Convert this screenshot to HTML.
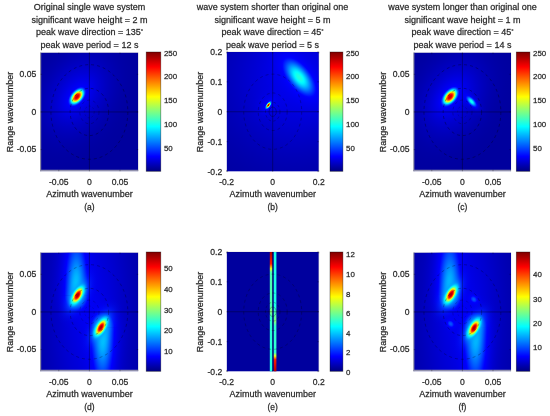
<!DOCTYPE html>
<html><head><meta charset="utf-8"><title>Wave spectra</title>
<style>
html,body{margin:0;padding:0;background:#fff}
body{width:550px;height:416px;overflow:hidden}
svg{display:block}
text{font-family:"Liberation Sans", sans-serif;fill:#262626;stroke:#262626;stroke-width:0.3px;stroke-opacity:0.75}
</style></head><body>
<svg width="550" height="416" viewBox="0 0 550 416">
<defs>
<linearGradient id="jb" x1="0" y1="0" x2="0" y2="1"><stop offset="0.0000" stop-color="#800000"/><stop offset="0.0312" stop-color="#9f0000"/><stop offset="0.0625" stop-color="#bf0000"/><stop offset="0.0938" stop-color="#df0000"/><stop offset="0.1250" stop-color="#ff0000"/><stop offset="0.1562" stop-color="#ff2000"/><stop offset="0.1875" stop-color="#ff4000"/><stop offset="0.2188" stop-color="#ff6000"/><stop offset="0.2500" stop-color="#ff8000"/><stop offset="0.2812" stop-color="#ff9f00"/><stop offset="0.3125" stop-color="#ffbf00"/><stop offset="0.3438" stop-color="#ffdf00"/><stop offset="0.3750" stop-color="#ffff00"/><stop offset="0.4062" stop-color="#dfff20"/><stop offset="0.4375" stop-color="#bfff40"/><stop offset="0.4688" stop-color="#9fff60"/><stop offset="0.5000" stop-color="#80ff80"/><stop offset="0.5312" stop-color="#60ff9f"/><stop offset="0.5625" stop-color="#40ffbf"/><stop offset="0.5938" stop-color="#20ffdf"/><stop offset="0.6250" stop-color="#00ffff"/><stop offset="0.6562" stop-color="#00dfff"/><stop offset="0.6875" stop-color="#00bfff"/><stop offset="0.7188" stop-color="#009fff"/><stop offset="0.7500" stop-color="#0080ff"/><stop offset="0.7812" stop-color="#0060ff"/><stop offset="0.8125" stop-color="#0040ff"/><stop offset="0.8438" stop-color="#0020ff"/><stop offset="0.8750" stop-color="#0000ff"/><stop offset="0.9062" stop-color="#0000df"/><stop offset="0.9375" stop-color="#0000bf"/><stop offset="0.9688" stop-color="#00009f"/><stop offset="1.0000" stop-color="#000080"/></linearGradient>
<radialGradient id="g1" gradientUnits="userSpaceOnUse" cx="0" cy="0" r="3.600" gradientTransform="translate(77.40 94.95) rotate(-60.00) scale(28.000 20.000)"><stop offset="0.0000" stop-color="#0000ff" stop-opacity="0.800"/><stop offset="0.0357" stop-color="#0000ff" stop-opacity="0.793"/><stop offset="0.0714" stop-color="#0000ff" stop-opacity="0.774"/><stop offset="0.1071" stop-color="#0000ff" stop-opacity="0.743"/><stop offset="0.1429" stop-color="#0000ff" stop-opacity="0.701"/><stop offset="0.1786" stop-color="#0000ff" stop-opacity="0.651"/><stop offset="0.2143" stop-color="#0000ff" stop-opacity="0.594"/><stop offset="0.2500" stop-color="#0000ff" stop-opacity="0.534"/><stop offset="0.2857" stop-color="#0000ff" stop-opacity="0.471"/><stop offset="0.3214" stop-color="#0000ff" stop-opacity="0.410"/><stop offset="0.3571" stop-color="#0000ff" stop-opacity="0.350"/><stop offset="0.3929" stop-color="#0000ff" stop-opacity="0.294"/><stop offset="0.4286" stop-color="#0000ff" stop-opacity="0.243"/><stop offset="0.4643" stop-color="#0000ff" stop-opacity="0.198"/><stop offset="0.5000" stop-color="#0000ff" stop-opacity="0.158"/><stop offset="0.5357" stop-color="#0000ff" stop-opacity="0.125"/><stop offset="0.5714" stop-color="#0000ff" stop-opacity="0.096"/><stop offset="0.6071" stop-color="#0000ff" stop-opacity="0.073"/><stop offset="0.6429" stop-color="#0000ff" stop-opacity="0.055"/><stop offset="0.6786" stop-color="#0000ff" stop-opacity="0.040"/><stop offset="0.7143" stop-color="#0000ff" stop-opacity="0.029"/><stop offset="0.7500" stop-color="#0000ff" stop-opacity="0.021"/><stop offset="0.7857" stop-color="#0000ff" stop-opacity="0.015"/><stop offset="0.8214" stop-color="#0000ff" stop-opacity="0.009"/><stop offset="0.8571" stop-color="#0000ff" stop-opacity="0.005"/><stop offset="0.8929" stop-color="#0000ff" stop-opacity="0.002"/><stop offset="0.9286" stop-color="#0000ff" stop-opacity="0.001"/><stop offset="0.9643" stop-color="#0000ff" stop-opacity="0.000"/><stop offset="1.0000" stop-color="#0000ff" stop-opacity="0.000"/></radialGradient>
<radialGradient id="g2" gradientUnits="userSpaceOnUse" cx="0" cy="0" r="7.200" gradientTransform="translate(77.10 96.65) rotate(-50.00) scale(5.600 3.250)"><stop offset="0.0000" stop-color="#c70000" stop-opacity="1.000"/><stop offset="0.0036" stop-color="#c70000" stop-opacity="1.000"/><stop offset="0.0094" stop-color="#c70000" stop-opacity="1.000"/><stop offset="0.0166" stop-color="#c90000" stop-opacity="1.000"/><stop offset="0.0249" stop-color="#cd0000" stop-opacity="1.000"/><stop offset="0.0340" stop-color="#d40000" stop-opacity="1.000"/><stop offset="0.0438" stop-color="#df0000" stop-opacity="1.000"/><stop offset="0.0544" stop-color="#ef0000" stop-opacity="1.000"/><stop offset="0.0656" stop-color="#ff0700" stop-opacity="1.000"/><stop offset="0.0774" stop-color="#ff2500" stop-opacity="1.000"/><stop offset="0.0896" stop-color="#ff4a00" stop-opacity="1.000"/><stop offset="0.1024" stop-color="#ff7800" stop-opacity="1.000"/><stop offset="0.1157" stop-color="#ffad00" stop-opacity="1.000"/><stop offset="0.1294" stop-color="#ffe800" stop-opacity="1.000"/><stop offset="0.1436" stop-color="#d5ff2a" stop-opacity="1.000"/><stop offset="0.1581" stop-color="#92ff6d" stop-opacity="1.000"/><stop offset="0.1731" stop-color="#4effb1" stop-opacity="1.000"/><stop offset="0.1884" stop-color="#0bfff4" stop-opacity="1.000"/><stop offset="0.2041" stop-color="#00ccff" stop-opacity="1.000"/><stop offset="0.2202" stop-color="#0094ff" stop-opacity="1.000"/><stop offset="0.2366" stop-color="#0063ff" stop-opacity="1.000"/><stop offset="0.2533" stop-color="#003aff" stop-opacity="1.000"/><stop offset="0.2704" stop-color="#0018ff" stop-opacity="1.000"/><stop offset="0.2877" stop-color="#0000ff" stop-opacity="0.986"/><stop offset="0.3054" stop-color="#0000ff" stop-opacity="0.829"/><stop offset="0.3233" stop-color="#0000ff" stop-opacity="0.709"/><stop offset="0.3416" stop-color="#0000ff" stop-opacity="0.618"/><stop offset="0.3601" stop-color="#0000ff" stop-opacity="0.546"/><stop offset="0.3789" stop-color="#0000ff" stop-opacity="0.487"/><stop offset="0.3980" stop-color="#0000ff" stop-opacity="0.436"/><stop offset="0.4174" stop-color="#0000ff" stop-opacity="0.391"/><stop offset="0.4370" stop-color="#0000ff" stop-opacity="0.349"/><stop offset="0.4568" stop-color="#0000ff" stop-opacity="0.311"/><stop offset="0.4769" stop-color="#0000ff" stop-opacity="0.275"/><stop offset="0.4973" stop-color="#0000ff" stop-opacity="0.242"/><stop offset="0.5179" stop-color="#0000ff" stop-opacity="0.211"/><stop offset="0.5387" stop-color="#0000ff" stop-opacity="0.183"/><stop offset="0.5598" stop-color="#0000ff" stop-opacity="0.158"/><stop offset="0.5811" stop-color="#0000ff" stop-opacity="0.135"/><stop offset="0.6026" stop-color="#0000ff" stop-opacity="0.114"/><stop offset="0.6243" stop-color="#0000ff" stop-opacity="0.096"/><stop offset="0.6463" stop-color="#0000ff" stop-opacity="0.080"/><stop offset="0.6685" stop-color="#0000ff" stop-opacity="0.066"/><stop offset="0.6909" stop-color="#0000ff" stop-opacity="0.054"/><stop offset="0.7135" stop-color="#0000ff" stop-opacity="0.044"/><stop offset="0.7363" stop-color="#0000ff" stop-opacity="0.036"/><stop offset="0.7593" stop-color="#0000ff" stop-opacity="0.029"/><stop offset="0.7825" stop-color="#0000ff" stop-opacity="0.023"/><stop offset="0.8059" stop-color="#0000ff" stop-opacity="0.017"/><stop offset="0.8295" stop-color="#0000ff" stop-opacity="0.012"/><stop offset="0.8533" stop-color="#0000ff" stop-opacity="0.008"/><stop offset="0.8773" stop-color="#0000ff" stop-opacity="0.005"/><stop offset="0.9014" stop-color="#0000ff" stop-opacity="0.003"/><stop offset="0.9258" stop-color="#0000ff" stop-opacity="0.002"/><stop offset="0.9504" stop-color="#0000ff" stop-opacity="0.001"/><stop offset="0.9751" stop-color="#0000ff" stop-opacity="0.000"/><stop offset="1.0000" stop-color="#0000ff" stop-opacity="0.000"/></radialGradient>
<radialGradient id="g3" gradientUnits="userSpaceOnUse" cx="0" cy="0" r="3.600" gradientTransform="translate(294.70 79.75) rotate(0.00) scale(48.000 52.000)"><stop offset="0.0000" stop-color="#0000ff" stop-opacity="0.800"/><stop offset="0.0357" stop-color="#0000ff" stop-opacity="0.793"/><stop offset="0.0714" stop-color="#0000ff" stop-opacity="0.774"/><stop offset="0.1071" stop-color="#0000ff" stop-opacity="0.743"/><stop offset="0.1429" stop-color="#0000ff" stop-opacity="0.701"/><stop offset="0.1786" stop-color="#0000ff" stop-opacity="0.651"/><stop offset="0.2143" stop-color="#0000ff" stop-opacity="0.594"/><stop offset="0.2500" stop-color="#0000ff" stop-opacity="0.534"/><stop offset="0.2857" stop-color="#0000ff" stop-opacity="0.471"/><stop offset="0.3214" stop-color="#0000ff" stop-opacity="0.410"/><stop offset="0.3571" stop-color="#0000ff" stop-opacity="0.350"/><stop offset="0.3929" stop-color="#0000ff" stop-opacity="0.294"/><stop offset="0.4286" stop-color="#0000ff" stop-opacity="0.243"/><stop offset="0.4643" stop-color="#0000ff" stop-opacity="0.198"/><stop offset="0.5000" stop-color="#0000ff" stop-opacity="0.158"/><stop offset="0.5357" stop-color="#0000ff" stop-opacity="0.125"/><stop offset="0.5714" stop-color="#0000ff" stop-opacity="0.096"/><stop offset="0.6071" stop-color="#0000ff" stop-opacity="0.073"/><stop offset="0.6429" stop-color="#0000ff" stop-opacity="0.055"/><stop offset="0.6786" stop-color="#0000ff" stop-opacity="0.040"/><stop offset="0.7143" stop-color="#0000ff" stop-opacity="0.029"/><stop offset="0.7500" stop-color="#0000ff" stop-opacity="0.021"/><stop offset="0.7857" stop-color="#0000ff" stop-opacity="0.015"/><stop offset="0.8214" stop-color="#0000ff" stop-opacity="0.009"/><stop offset="0.8571" stop-color="#0000ff" stop-opacity="0.005"/><stop offset="0.8929" stop-color="#0000ff" stop-opacity="0.002"/><stop offset="0.9286" stop-color="#0000ff" stop-opacity="0.001"/><stop offset="0.9643" stop-color="#0000ff" stop-opacity="0.000"/><stop offset="1.0000" stop-color="#0000ff" stop-opacity="0.000"/></radialGradient>
<radialGradient id="g4" gradientUnits="userSpaceOnUse" cx="0" cy="0" r="6.120" gradientTransform="translate(299.20 77.35) rotate(52.00) scale(13.400 6.500)"><stop offset="0.0000" stop-color="#24ffdb" stop-opacity="1.000"/><stop offset="0.0046" stop-color="#24ffdb" stop-opacity="1.000"/><stop offset="0.0120" stop-color="#23ffdc" stop-opacity="1.000"/><stop offset="0.0212" stop-color="#21ffde" stop-opacity="1.000"/><stop offset="0.0318" stop-color="#1dffe2" stop-opacity="1.000"/><stop offset="0.0434" stop-color="#17ffe8" stop-opacity="1.000"/><stop offset="0.0560" stop-color="#10ffef" stop-opacity="1.000"/><stop offset="0.0695" stop-color="#05fffa" stop-opacity="1.000"/><stop offset="0.0838" stop-color="#00f7ff" stop-opacity="1.000"/><stop offset="0.0989" stop-color="#00e8ff" stop-opacity="1.000"/><stop offset="0.1146" stop-color="#00d5ff" stop-opacity="1.000"/><stop offset="0.1309" stop-color="#00c1ff" stop-opacity="1.000"/><stop offset="0.1479" stop-color="#00abff" stop-opacity="1.000"/><stop offset="0.1654" stop-color="#0093ff" stop-opacity="1.000"/><stop offset="0.1835" stop-color="#007bff" stop-opacity="1.000"/><stop offset="0.2021" stop-color="#0062ff" stop-opacity="1.000"/><stop offset="0.2212" stop-color="#0049ff" stop-opacity="1.000"/><stop offset="0.2408" stop-color="#0031ff" stop-opacity="1.000"/><stop offset="0.2609" stop-color="#001bff" stop-opacity="1.000"/><stop offset="0.2814" stop-color="#0005ff" stop-opacity="1.000"/><stop offset="0.3023" stop-color="#0000ff" stop-opacity="0.890"/><stop offset="0.3237" stop-color="#0000ff" stop-opacity="0.754"/><stop offset="0.3455" stop-color="#0000ff" stop-opacity="0.634"/><stop offset="0.3677" stop-color="#0000ff" stop-opacity="0.530"/><stop offset="0.3903" stop-color="#0000ff" stop-opacity="0.441"/><stop offset="0.4132" stop-color="#0000ff" stop-opacity="0.366"/><stop offset="0.4365" stop-color="#0000ff" stop-opacity="0.303"/><stop offset="0.4602" stop-color="#0000ff" stop-opacity="0.250"/><stop offset="0.4843" stop-color="#0000ff" stop-opacity="0.206"/><stop offset="0.5087" stop-color="#0000ff" stop-opacity="0.169"/><stop offset="0.5334" stop-color="#0000ff" stop-opacity="0.139"/><stop offset="0.5584" stop-color="#0000ff" stop-opacity="0.113"/><stop offset="0.5838" stop-color="#0000ff" stop-opacity="0.092"/><stop offset="0.6095" stop-color="#0000ff" stop-opacity="0.074"/><stop offset="0.6355" stop-color="#0000ff" stop-opacity="0.060"/><stop offset="0.6618" stop-color="#0000ff" stop-opacity="0.047"/><stop offset="0.6885" stop-color="#0000ff" stop-opacity="0.037"/><stop offset="0.7154" stop-color="#0000ff" stop-opacity="0.029"/><stop offset="0.7426" stop-color="#0000ff" stop-opacity="0.023"/><stop offset="0.7701" stop-color="#0000ff" stop-opacity="0.017"/><stop offset="0.7979" stop-color="#0000ff" stop-opacity="0.013"/><stop offset="0.8260" stop-color="#0000ff" stop-opacity="0.008"/><stop offset="0.8543" stop-color="#0000ff" stop-opacity="0.005"/><stop offset="0.8829" stop-color="#0000ff" stop-opacity="0.003"/><stop offset="0.9118" stop-color="#0000ff" stop-opacity="0.002"/><stop offset="0.9409" stop-color="#0000ff" stop-opacity="0.001"/><stop offset="0.9703" stop-color="#0000ff" stop-opacity="0.000"/><stop offset="1.0000" stop-color="#0000ff" stop-opacity="0.000"/></radialGradient>
<radialGradient id="g5" gradientUnits="userSpaceOnUse" cx="0" cy="0" r="3.600" gradientTransform="translate(268.40 105.15) rotate(-40.00) scale(8.000 6.500)"><stop offset="0.0000" stop-color="#0000ff" stop-opacity="0.560"/><stop offset="0.0357" stop-color="#0000ff" stop-opacity="0.555"/><stop offset="0.0714" stop-color="#0000ff" stop-opacity="0.542"/><stop offset="0.1071" stop-color="#0000ff" stop-opacity="0.520"/><stop offset="0.1429" stop-color="#0000ff" stop-opacity="0.491"/><stop offset="0.1786" stop-color="#0000ff" stop-opacity="0.455"/><stop offset="0.2143" stop-color="#0000ff" stop-opacity="0.416"/><stop offset="0.2500" stop-color="#0000ff" stop-opacity="0.374"/><stop offset="0.2857" stop-color="#0000ff" stop-opacity="0.330"/><stop offset="0.3214" stop-color="#0000ff" stop-opacity="0.287"/><stop offset="0.3571" stop-color="#0000ff" stop-opacity="0.245"/><stop offset="0.3929" stop-color="#0000ff" stop-opacity="0.206"/><stop offset="0.4286" stop-color="#0000ff" stop-opacity="0.170"/><stop offset="0.4643" stop-color="#0000ff" stop-opacity="0.139"/><stop offset="0.5000" stop-color="#0000ff" stop-opacity="0.111"/><stop offset="0.5357" stop-color="#0000ff" stop-opacity="0.087"/><stop offset="0.5714" stop-color="#0000ff" stop-opacity="0.067"/><stop offset="0.6071" stop-color="#0000ff" stop-opacity="0.051"/><stop offset="0.6429" stop-color="#0000ff" stop-opacity="0.038"/><stop offset="0.6786" stop-color="#0000ff" stop-opacity="0.028"/><stop offset="0.7143" stop-color="#0000ff" stop-opacity="0.021"/><stop offset="0.7500" stop-color="#0000ff" stop-opacity="0.015"/><stop offset="0.7857" stop-color="#0000ff" stop-opacity="0.010"/><stop offset="0.8214" stop-color="#0000ff" stop-opacity="0.006"/><stop offset="0.8571" stop-color="#0000ff" stop-opacity="0.003"/><stop offset="0.8929" stop-color="#0000ff" stop-opacity="0.002"/><stop offset="0.9286" stop-color="#0000ff" stop-opacity="0.001"/><stop offset="0.9643" stop-color="#0000ff" stop-opacity="0.000"/><stop offset="1.0000" stop-color="#0000ff" stop-opacity="0.000"/></radialGradient>
<radialGradient id="g6" gradientUnits="userSpaceOnUse" cx="0" cy="0" r="8.640" gradientTransform="translate(268.40 105.15) rotate(-55.00) scale(2.100 0.950)"><stop offset="0.0000" stop-color="#8a0000" stop-opacity="1.000"/><stop offset="0.0028" stop-color="#8a0000" stop-opacity="1.000"/><stop offset="0.0073" stop-color="#8b0000" stop-opacity="1.000"/><stop offset="0.0129" stop-color="#8f0000" stop-opacity="1.000"/><stop offset="0.0193" stop-color="#960000" stop-opacity="1.000"/><stop offset="0.0264" stop-color="#a10000" stop-opacity="1.000"/><stop offset="0.0341" stop-color="#b00000" stop-opacity="1.000"/><stop offset="0.0423" stop-color="#c30000" stop-opacity="1.000"/><stop offset="0.0510" stop-color="#dc0000" stop-opacity="1.000"/><stop offset="0.0602" stop-color="#fb0000" stop-opacity="1.000"/><stop offset="0.0697" stop-color="#ff1f00" stop-opacity="1.000"/><stop offset="0.0797" stop-color="#ff4700" stop-opacity="1.000"/><stop offset="0.0900" stop-color="#ff7400" stop-opacity="1.000"/><stop offset="0.1007" stop-color="#ffa500" stop-opacity="1.000"/><stop offset="0.1117" stop-color="#ffd900" stop-opacity="1.000"/><stop offset="0.1230" stop-color="#f0ff0f" stop-opacity="1.000"/><stop offset="0.1347" stop-color="#b9ff46" stop-opacity="1.000"/><stop offset="0.1466" stop-color="#82ff7d" stop-opacity="1.000"/><stop offset="0.1588" stop-color="#4dffb2" stop-opacity="1.000"/><stop offset="0.1713" stop-color="#1affe5" stop-opacity="1.000"/><stop offset="0.1841" stop-color="#00e8ff" stop-opacity="1.000"/><stop offset="0.1971" stop-color="#00bbff" stop-opacity="1.000"/><stop offset="0.2103" stop-color="#0092ff" stop-opacity="1.000"/><stop offset="0.2238" stop-color="#006dff" stop-opacity="1.000"/><stop offset="0.2376" stop-color="#004dff" stop-opacity="1.000"/><stop offset="0.2515" stop-color="#0031ff" stop-opacity="1.000"/><stop offset="0.2657" stop-color="#0019ff" stop-opacity="1.000"/><stop offset="0.2802" stop-color="#0005ff" stop-opacity="1.000"/><stop offset="0.2948" stop-color="#0000ff" stop-opacity="0.903"/><stop offset="0.3096" stop-color="#0000ff" stop-opacity="0.792"/><stop offset="0.3247" stop-color="#0000ff" stop-opacity="0.699"/><stop offset="0.3399" stop-color="#0000ff" stop-opacity="0.621"/><stop offset="0.3554" stop-color="#0000ff" stop-opacity="0.555"/><stop offset="0.3710" stop-color="#0000ff" stop-opacity="0.499"/><stop offset="0.3869" stop-color="#0000ff" stop-opacity="0.450"/><stop offset="0.4029" stop-color="#0000ff" stop-opacity="0.407"/><stop offset="0.4191" stop-color="#0000ff" stop-opacity="0.369"/><stop offset="0.4355" stop-color="#0000ff" stop-opacity="0.333"/><stop offset="0.4521" stop-color="#0000ff" stop-opacity="0.301"/><stop offset="0.4688" stop-color="#0000ff" stop-opacity="0.271"/><stop offset="0.4857" stop-color="#0000ff" stop-opacity="0.244"/><stop offset="0.5028" stop-color="#0000ff" stop-opacity="0.218"/><stop offset="0.5200" stop-color="#0000ff" stop-opacity="0.194"/><stop offset="0.5375" stop-color="#0000ff" stop-opacity="0.172"/><stop offset="0.5550" stop-color="#0000ff" stop-opacity="0.152"/><stop offset="0.5728" stop-color="#0000ff" stop-opacity="0.134"/><stop offset="0.5907" stop-color="#0000ff" stop-opacity="0.117"/><stop offset="0.6087" stop-color="#0000ff" stop-opacity="0.101"/><stop offset="0.6270" stop-color="#0000ff" stop-opacity="0.088"/><stop offset="0.6453" stop-color="#0000ff" stop-opacity="0.075"/><stop offset="0.6638" stop-color="#0000ff" stop-opacity="0.064"/><stop offset="0.6825" stop-color="#0000ff" stop-opacity="0.055"/><stop offset="0.7013" stop-color="#0000ff" stop-opacity="0.046"/><stop offset="0.7202" stop-color="#0000ff" stop-opacity="0.039"/><stop offset="0.7393" stop-color="#0000ff" stop-opacity="0.032"/><stop offset="0.7586" stop-color="#0000ff" stop-opacity="0.027"/><stop offset="0.7780" stop-color="#0000ff" stop-opacity="0.022"/><stop offset="0.7975" stop-color="#0000ff" stop-opacity="0.018"/><stop offset="0.8171" stop-color="#0000ff" stop-opacity="0.014"/><stop offset="0.8369" stop-color="#0000ff" stop-opacity="0.010"/><stop offset="0.8569" stop-color="#0000ff" stop-opacity="0.007"/><stop offset="0.8769" stop-color="#0000ff" stop-opacity="0.005"/><stop offset="0.8971" stop-color="#0000ff" stop-opacity="0.003"/><stop offset="0.9174" stop-color="#0000ff" stop-opacity="0.002"/><stop offset="0.9379" stop-color="#0000ff" stop-opacity="0.001"/><stop offset="0.9585" stop-color="#0000ff" stop-opacity="0.001"/><stop offset="0.9792" stop-color="#0000ff" stop-opacity="0.000"/><stop offset="1.0000" stop-color="#0000ff" stop-opacity="0.000"/></radialGradient>
<radialGradient id="g7" gradientUnits="userSpaceOnUse" cx="0" cy="0" r="3.600" gradientTransform="translate(452.40 96.95) rotate(-60.00) scale(28.000 20.000)"><stop offset="0.0000" stop-color="#0000ff" stop-opacity="0.800"/><stop offset="0.0357" stop-color="#0000ff" stop-opacity="0.793"/><stop offset="0.0714" stop-color="#0000ff" stop-opacity="0.774"/><stop offset="0.1071" stop-color="#0000ff" stop-opacity="0.743"/><stop offset="0.1429" stop-color="#0000ff" stop-opacity="0.701"/><stop offset="0.1786" stop-color="#0000ff" stop-opacity="0.651"/><stop offset="0.2143" stop-color="#0000ff" stop-opacity="0.594"/><stop offset="0.2500" stop-color="#0000ff" stop-opacity="0.534"/><stop offset="0.2857" stop-color="#0000ff" stop-opacity="0.471"/><stop offset="0.3214" stop-color="#0000ff" stop-opacity="0.410"/><stop offset="0.3571" stop-color="#0000ff" stop-opacity="0.350"/><stop offset="0.3929" stop-color="#0000ff" stop-opacity="0.294"/><stop offset="0.4286" stop-color="#0000ff" stop-opacity="0.243"/><stop offset="0.4643" stop-color="#0000ff" stop-opacity="0.198"/><stop offset="0.5000" stop-color="#0000ff" stop-opacity="0.158"/><stop offset="0.5357" stop-color="#0000ff" stop-opacity="0.125"/><stop offset="0.5714" stop-color="#0000ff" stop-opacity="0.096"/><stop offset="0.6071" stop-color="#0000ff" stop-opacity="0.073"/><stop offset="0.6429" stop-color="#0000ff" stop-opacity="0.055"/><stop offset="0.6786" stop-color="#0000ff" stop-opacity="0.040"/><stop offset="0.7143" stop-color="#0000ff" stop-opacity="0.029"/><stop offset="0.7500" stop-color="#0000ff" stop-opacity="0.021"/><stop offset="0.7857" stop-color="#0000ff" stop-opacity="0.015"/><stop offset="0.8214" stop-color="#0000ff" stop-opacity="0.009"/><stop offset="0.8571" stop-color="#0000ff" stop-opacity="0.005"/><stop offset="0.8929" stop-color="#0000ff" stop-opacity="0.002"/><stop offset="0.9286" stop-color="#0000ff" stop-opacity="0.001"/><stop offset="0.9643" stop-color="#0000ff" stop-opacity="0.000"/><stop offset="1.0000" stop-color="#0000ff" stop-opacity="0.000"/></radialGradient>
<radialGradient id="g8" gradientUnits="userSpaceOnUse" cx="0" cy="0" r="6.480" gradientTransform="translate(471.40 101.45) rotate(47.00) scale(4.300 1.900)"><stop offset="0.0000" stop-color="#1affe5" stop-opacity="1.000"/><stop offset="0.0042" stop-color="#19ffe6" stop-opacity="1.000"/><stop offset="0.0110" stop-color="#19ffe6" stop-opacity="1.000"/><stop offset="0.0195" stop-color="#17ffe8" stop-opacity="1.000"/><stop offset="0.0291" stop-color="#13ffec" stop-opacity="1.000"/><stop offset="0.0398" stop-color="#0efff1" stop-opacity="1.000"/><stop offset="0.0514" stop-color="#07fff8" stop-opacity="1.000"/><stop offset="0.0638" stop-color="#00fcff" stop-opacity="1.000"/><stop offset="0.0769" stop-color="#00efff" stop-opacity="1.000"/><stop offset="0.0907" stop-color="#00e1ff" stop-opacity="1.000"/><stop offset="0.1051" stop-color="#00cfff" stop-opacity="1.000"/><stop offset="0.1201" stop-color="#00bcff" stop-opacity="1.000"/><stop offset="0.1356" stop-color="#00a7ff" stop-opacity="1.000"/><stop offset="0.1517" stop-color="#0090ff" stop-opacity="1.000"/><stop offset="0.1683" stop-color="#0079ff" stop-opacity="1.000"/><stop offset="0.1853" stop-color="#0061ff" stop-opacity="1.000"/><stop offset="0.2029" stop-color="#0049ff" stop-opacity="1.000"/><stop offset="0.2208" stop-color="#0031ff" stop-opacity="1.000"/><stop offset="0.2392" stop-color="#001bff" stop-opacity="1.000"/><stop offset="0.2580" stop-color="#0006ff" stop-opacity="1.000"/><stop offset="0.2773" stop-color="#0000ff" stop-opacity="0.899"/><stop offset="0.2969" stop-color="#0000ff" stop-opacity="0.764"/><stop offset="0.3168" stop-color="#0000ff" stop-opacity="0.645"/><stop offset="0.3372" stop-color="#0000ff" stop-opacity="0.542"/><stop offset="0.3579" stop-color="#0000ff" stop-opacity="0.453"/><stop offset="0.3789" stop-color="#0000ff" stop-opacity="0.378"/><stop offset="0.4003" stop-color="#0000ff" stop-opacity="0.315"/><stop offset="0.4220" stop-color="#0000ff" stop-opacity="0.263"/><stop offset="0.4441" stop-color="#0000ff" stop-opacity="0.219"/><stop offset="0.4664" stop-color="#0000ff" stop-opacity="0.183"/><stop offset="0.4891" stop-color="#0000ff" stop-opacity="0.153"/><stop offset="0.5121" stop-color="#0000ff" stop-opacity="0.127"/><stop offset="0.5354" stop-color="#0000ff" stop-opacity="0.106"/><stop offset="0.5589" stop-color="#0000ff" stop-opacity="0.088"/><stop offset="0.5828" stop-color="#0000ff" stop-opacity="0.073"/><stop offset="0.6069" stop-color="#0000ff" stop-opacity="0.060"/><stop offset="0.6313" stop-color="#0000ff" stop-opacity="0.049"/><stop offset="0.6560" stop-color="#0000ff" stop-opacity="0.040"/><stop offset="0.6810" stop-color="#0000ff" stop-opacity="0.032"/><stop offset="0.7062" stop-color="#0000ff" stop-opacity="0.025"/><stop offset="0.7317" stop-color="#0000ff" stop-opacity="0.020"/><stop offset="0.7574" stop-color="#0000ff" stop-opacity="0.016"/><stop offset="0.7834" stop-color="#0000ff" stop-opacity="0.012"/><stop offset="0.8097" stop-color="#0000ff" stop-opacity="0.009"/><stop offset="0.8361" stop-color="#0000ff" stop-opacity="0.006"/><stop offset="0.8629" stop-color="#0000ff" stop-opacity="0.004"/><stop offset="0.8898" stop-color="#0000ff" stop-opacity="0.002"/><stop offset="0.9170" stop-color="#0000ff" stop-opacity="0.001"/><stop offset="0.9445" stop-color="#0000ff" stop-opacity="0.001"/><stop offset="0.9721" stop-color="#0000ff" stop-opacity="0.000"/><stop offset="1.0000" stop-color="#0000ff" stop-opacity="0.000"/></radialGradient>
<radialGradient id="g9" gradientUnits="userSpaceOnUse" cx="0" cy="0" r="7.200" gradientTransform="translate(450.10 96.75) rotate(-50.00) scale(5.800 3.400)"><stop offset="0.0000" stop-color="#c70000" stop-opacity="1.000"/><stop offset="0.0036" stop-color="#c70000" stop-opacity="1.000"/><stop offset="0.0094" stop-color="#c70000" stop-opacity="1.000"/><stop offset="0.0166" stop-color="#c90000" stop-opacity="1.000"/><stop offset="0.0249" stop-color="#cd0000" stop-opacity="1.000"/><stop offset="0.0340" stop-color="#d40000" stop-opacity="1.000"/><stop offset="0.0438" stop-color="#df0000" stop-opacity="1.000"/><stop offset="0.0544" stop-color="#ef0000" stop-opacity="1.000"/><stop offset="0.0656" stop-color="#ff0700" stop-opacity="1.000"/><stop offset="0.0774" stop-color="#ff2500" stop-opacity="1.000"/><stop offset="0.0896" stop-color="#ff4a00" stop-opacity="1.000"/><stop offset="0.1024" stop-color="#ff7800" stop-opacity="1.000"/><stop offset="0.1157" stop-color="#ffad00" stop-opacity="1.000"/><stop offset="0.1294" stop-color="#ffe800" stop-opacity="1.000"/><stop offset="0.1436" stop-color="#d5ff2a" stop-opacity="1.000"/><stop offset="0.1581" stop-color="#92ff6d" stop-opacity="1.000"/><stop offset="0.1731" stop-color="#4effb1" stop-opacity="1.000"/><stop offset="0.1884" stop-color="#0bfff4" stop-opacity="1.000"/><stop offset="0.2041" stop-color="#00ccff" stop-opacity="1.000"/><stop offset="0.2202" stop-color="#0094ff" stop-opacity="1.000"/><stop offset="0.2366" stop-color="#0063ff" stop-opacity="1.000"/><stop offset="0.2533" stop-color="#003aff" stop-opacity="1.000"/><stop offset="0.2704" stop-color="#0018ff" stop-opacity="1.000"/><stop offset="0.2877" stop-color="#0000ff" stop-opacity="0.986"/><stop offset="0.3054" stop-color="#0000ff" stop-opacity="0.829"/><stop offset="0.3233" stop-color="#0000ff" stop-opacity="0.709"/><stop offset="0.3416" stop-color="#0000ff" stop-opacity="0.618"/><stop offset="0.3601" stop-color="#0000ff" stop-opacity="0.546"/><stop offset="0.3789" stop-color="#0000ff" stop-opacity="0.487"/><stop offset="0.3980" stop-color="#0000ff" stop-opacity="0.436"/><stop offset="0.4174" stop-color="#0000ff" stop-opacity="0.391"/><stop offset="0.4370" stop-color="#0000ff" stop-opacity="0.349"/><stop offset="0.4568" stop-color="#0000ff" stop-opacity="0.311"/><stop offset="0.4769" stop-color="#0000ff" stop-opacity="0.275"/><stop offset="0.4973" stop-color="#0000ff" stop-opacity="0.242"/><stop offset="0.5179" stop-color="#0000ff" stop-opacity="0.211"/><stop offset="0.5387" stop-color="#0000ff" stop-opacity="0.183"/><stop offset="0.5598" stop-color="#0000ff" stop-opacity="0.158"/><stop offset="0.5811" stop-color="#0000ff" stop-opacity="0.135"/><stop offset="0.6026" stop-color="#0000ff" stop-opacity="0.114"/><stop offset="0.6243" stop-color="#0000ff" stop-opacity="0.096"/><stop offset="0.6463" stop-color="#0000ff" stop-opacity="0.080"/><stop offset="0.6685" stop-color="#0000ff" stop-opacity="0.066"/><stop offset="0.6909" stop-color="#0000ff" stop-opacity="0.054"/><stop offset="0.7135" stop-color="#0000ff" stop-opacity="0.044"/><stop offset="0.7363" stop-color="#0000ff" stop-opacity="0.036"/><stop offset="0.7593" stop-color="#0000ff" stop-opacity="0.029"/><stop offset="0.7825" stop-color="#0000ff" stop-opacity="0.023"/><stop offset="0.8059" stop-color="#0000ff" stop-opacity="0.017"/><stop offset="0.8295" stop-color="#0000ff" stop-opacity="0.012"/><stop offset="0.8533" stop-color="#0000ff" stop-opacity="0.008"/><stop offset="0.8773" stop-color="#0000ff" stop-opacity="0.005"/><stop offset="0.9014" stop-color="#0000ff" stop-opacity="0.003"/><stop offset="0.9258" stop-color="#0000ff" stop-opacity="0.002"/><stop offset="0.9504" stop-color="#0000ff" stop-opacity="0.001"/><stop offset="0.9751" stop-color="#0000ff" stop-opacity="0.000"/><stop offset="1.0000" stop-color="#0000ff" stop-opacity="0.000"/></radialGradient>
<radialGradient id="g10" gradientUnits="userSpaceOnUse" cx="0" cy="0" r="3.600" gradientTransform="translate(89.40 311.95) rotate(0.00) scale(29.000 90.000)"><stop offset="0.0000" stop-color="#0000ff" stop-opacity="0.800"/><stop offset="0.0357" stop-color="#0000ff" stop-opacity="0.793"/><stop offset="0.0714" stop-color="#0000ff" stop-opacity="0.774"/><stop offset="0.1071" stop-color="#0000ff" stop-opacity="0.743"/><stop offset="0.1429" stop-color="#0000ff" stop-opacity="0.701"/><stop offset="0.1786" stop-color="#0000ff" stop-opacity="0.651"/><stop offset="0.2143" stop-color="#0000ff" stop-opacity="0.594"/><stop offset="0.2500" stop-color="#0000ff" stop-opacity="0.534"/><stop offset="0.2857" stop-color="#0000ff" stop-opacity="0.471"/><stop offset="0.3214" stop-color="#0000ff" stop-opacity="0.410"/><stop offset="0.3571" stop-color="#0000ff" stop-opacity="0.350"/><stop offset="0.3929" stop-color="#0000ff" stop-opacity="0.294"/><stop offset="0.4286" stop-color="#0000ff" stop-opacity="0.243"/><stop offset="0.4643" stop-color="#0000ff" stop-opacity="0.198"/><stop offset="0.5000" stop-color="#0000ff" stop-opacity="0.158"/><stop offset="0.5357" stop-color="#0000ff" stop-opacity="0.125"/><stop offset="0.5714" stop-color="#0000ff" stop-opacity="0.096"/><stop offset="0.6071" stop-color="#0000ff" stop-opacity="0.073"/><stop offset="0.6429" stop-color="#0000ff" stop-opacity="0.055"/><stop offset="0.6786" stop-color="#0000ff" stop-opacity="0.040"/><stop offset="0.7143" stop-color="#0000ff" stop-opacity="0.029"/><stop offset="0.7500" stop-color="#0000ff" stop-opacity="0.021"/><stop offset="0.7857" stop-color="#0000ff" stop-opacity="0.015"/><stop offset="0.8214" stop-color="#0000ff" stop-opacity="0.009"/><stop offset="0.8571" stop-color="#0000ff" stop-opacity="0.005"/><stop offset="0.8929" stop-color="#0000ff" stop-opacity="0.002"/><stop offset="0.9286" stop-color="#0000ff" stop-opacity="0.001"/><stop offset="0.9643" stop-color="#0000ff" stop-opacity="0.000"/><stop offset="1.0000" stop-color="#0000ff" stop-opacity="0.000"/></radialGradient>
<radialGradient id="g11" gradientUnits="userSpaceOnUse" cx="0" cy="0" r="3.600" gradientTransform="translate(76.40 295.25) rotate(90.00) scale(41.000 8.300)"><stop offset="0.0000" stop-color="#00dbff" stop-opacity="1.000"/><stop offset="0.0357" stop-color="#00d8ff" stop-opacity="1.000"/><stop offset="0.0714" stop-color="#00d0ff" stop-opacity="1.000"/><stop offset="0.1071" stop-color="#00c2ff" stop-opacity="1.000"/><stop offset="0.1429" stop-color="#00b0ff" stop-opacity="1.000"/><stop offset="0.1786" stop-color="#009bff" stop-opacity="1.000"/><stop offset="0.2143" stop-color="#0082ff" stop-opacity="1.000"/><stop offset="0.2500" stop-color="#0068ff" stop-opacity="1.000"/><stop offset="0.2857" stop-color="#004dff" stop-opacity="1.000"/><stop offset="0.3214" stop-color="#0032ff" stop-opacity="1.000"/><stop offset="0.3571" stop-color="#0018ff" stop-opacity="1.000"/><stop offset="0.3929" stop-color="#0000ff" stop-opacity="1.000"/><stop offset="0.4286" stop-color="#0000ff" stop-opacity="0.827"/><stop offset="0.4643" stop-color="#0000ff" stop-opacity="0.673"/><stop offset="0.5000" stop-color="#0000ff" stop-opacity="0.538"/><stop offset="0.5357" stop-color="#0000ff" stop-opacity="0.424"/><stop offset="0.5714" stop-color="#0000ff" stop-opacity="0.328"/><stop offset="0.6071" stop-color="#0000ff" stop-opacity="0.250"/><stop offset="0.6429" stop-color="#0000ff" stop-opacity="0.187"/><stop offset="0.6786" stop-color="#0000ff" stop-opacity="0.138"/><stop offset="0.7143" stop-color="#0000ff" stop-opacity="0.100"/><stop offset="0.7500" stop-color="#0000ff" stop-opacity="0.071"/><stop offset="0.7857" stop-color="#0000ff" stop-opacity="0.050"/><stop offset="0.8214" stop-color="#0000ff" stop-opacity="0.031"/><stop offset="0.8571" stop-color="#0000ff" stop-opacity="0.017"/><stop offset="0.8929" stop-color="#0000ff" stop-opacity="0.008"/><stop offset="0.9286" stop-color="#0000ff" stop-opacity="0.004"/><stop offset="0.9643" stop-color="#0000ff" stop-opacity="0.001"/><stop offset="1.0000" stop-color="#0000ff" stop-opacity="0.000"/></radialGradient>
<radialGradient id="g12" gradientUnits="userSpaceOnUse" cx="0" cy="0" r="3.600" gradientTransform="translate(76.40 295.25) rotate(90.00) scale(11.000 8.300)"><stop offset="0.0000" stop-color="#00dbff" stop-opacity="1.000"/><stop offset="0.0357" stop-color="#00d8ff" stop-opacity="1.000"/><stop offset="0.0714" stop-color="#00d0ff" stop-opacity="1.000"/><stop offset="0.1071" stop-color="#00c2ff" stop-opacity="1.000"/><stop offset="0.1429" stop-color="#00b0ff" stop-opacity="1.000"/><stop offset="0.1786" stop-color="#009bff" stop-opacity="1.000"/><stop offset="0.2143" stop-color="#0082ff" stop-opacity="1.000"/><stop offset="0.2500" stop-color="#0068ff" stop-opacity="1.000"/><stop offset="0.2857" stop-color="#004dff" stop-opacity="1.000"/><stop offset="0.3214" stop-color="#0032ff" stop-opacity="1.000"/><stop offset="0.3571" stop-color="#0018ff" stop-opacity="1.000"/><stop offset="0.3929" stop-color="#0000ff" stop-opacity="1.000"/><stop offset="0.4286" stop-color="#0000ff" stop-opacity="0.827"/><stop offset="0.4643" stop-color="#0000ff" stop-opacity="0.673"/><stop offset="0.5000" stop-color="#0000ff" stop-opacity="0.538"/><stop offset="0.5357" stop-color="#0000ff" stop-opacity="0.424"/><stop offset="0.5714" stop-color="#0000ff" stop-opacity="0.328"/><stop offset="0.6071" stop-color="#0000ff" stop-opacity="0.250"/><stop offset="0.6429" stop-color="#0000ff" stop-opacity="0.187"/><stop offset="0.6786" stop-color="#0000ff" stop-opacity="0.138"/><stop offset="0.7143" stop-color="#0000ff" stop-opacity="0.100"/><stop offset="0.7500" stop-color="#0000ff" stop-opacity="0.071"/><stop offset="0.7857" stop-color="#0000ff" stop-opacity="0.050"/><stop offset="0.8214" stop-color="#0000ff" stop-opacity="0.031"/><stop offset="0.8571" stop-color="#0000ff" stop-opacity="0.017"/><stop offset="0.8929" stop-color="#0000ff" stop-opacity="0.008"/><stop offset="0.9286" stop-color="#0000ff" stop-opacity="0.004"/><stop offset="0.9643" stop-color="#0000ff" stop-opacity="0.001"/><stop offset="1.0000" stop-color="#0000ff" stop-opacity="0.000"/></radialGradient>
<radialGradient id="g13" gradientUnits="userSpaceOnUse" cx="0" cy="0" r="3.600" gradientTransform="translate(102.60 327.85) rotate(90.00) scale(41.000 8.300)"><stop offset="0.0000" stop-color="#00dbff" stop-opacity="1.000"/><stop offset="0.0357" stop-color="#00d8ff" stop-opacity="1.000"/><stop offset="0.0714" stop-color="#00d0ff" stop-opacity="1.000"/><stop offset="0.1071" stop-color="#00c2ff" stop-opacity="1.000"/><stop offset="0.1429" stop-color="#00b0ff" stop-opacity="1.000"/><stop offset="0.1786" stop-color="#009bff" stop-opacity="1.000"/><stop offset="0.2143" stop-color="#0082ff" stop-opacity="1.000"/><stop offset="0.2500" stop-color="#0068ff" stop-opacity="1.000"/><stop offset="0.2857" stop-color="#004dff" stop-opacity="1.000"/><stop offset="0.3214" stop-color="#0032ff" stop-opacity="1.000"/><stop offset="0.3571" stop-color="#0018ff" stop-opacity="1.000"/><stop offset="0.3929" stop-color="#0000ff" stop-opacity="1.000"/><stop offset="0.4286" stop-color="#0000ff" stop-opacity="0.827"/><stop offset="0.4643" stop-color="#0000ff" stop-opacity="0.673"/><stop offset="0.5000" stop-color="#0000ff" stop-opacity="0.538"/><stop offset="0.5357" stop-color="#0000ff" stop-opacity="0.424"/><stop offset="0.5714" stop-color="#0000ff" stop-opacity="0.328"/><stop offset="0.6071" stop-color="#0000ff" stop-opacity="0.250"/><stop offset="0.6429" stop-color="#0000ff" stop-opacity="0.187"/><stop offset="0.6786" stop-color="#0000ff" stop-opacity="0.138"/><stop offset="0.7143" stop-color="#0000ff" stop-opacity="0.100"/><stop offset="0.7500" stop-color="#0000ff" stop-opacity="0.071"/><stop offset="0.7857" stop-color="#0000ff" stop-opacity="0.050"/><stop offset="0.8214" stop-color="#0000ff" stop-opacity="0.031"/><stop offset="0.8571" stop-color="#0000ff" stop-opacity="0.017"/><stop offset="0.8929" stop-color="#0000ff" stop-opacity="0.008"/><stop offset="0.9286" stop-color="#0000ff" stop-opacity="0.004"/><stop offset="0.9643" stop-color="#0000ff" stop-opacity="0.001"/><stop offset="1.0000" stop-color="#0000ff" stop-opacity="0.000"/></radialGradient>
<radialGradient id="g14" gradientUnits="userSpaceOnUse" cx="0" cy="0" r="3.600" gradientTransform="translate(102.60 327.85) rotate(90.00) scale(11.000 8.300)"><stop offset="0.0000" stop-color="#00dbff" stop-opacity="1.000"/><stop offset="0.0357" stop-color="#00d8ff" stop-opacity="1.000"/><stop offset="0.0714" stop-color="#00d0ff" stop-opacity="1.000"/><stop offset="0.1071" stop-color="#00c2ff" stop-opacity="1.000"/><stop offset="0.1429" stop-color="#00b0ff" stop-opacity="1.000"/><stop offset="0.1786" stop-color="#009bff" stop-opacity="1.000"/><stop offset="0.2143" stop-color="#0082ff" stop-opacity="1.000"/><stop offset="0.2500" stop-color="#0068ff" stop-opacity="1.000"/><stop offset="0.2857" stop-color="#004dff" stop-opacity="1.000"/><stop offset="0.3214" stop-color="#0032ff" stop-opacity="1.000"/><stop offset="0.3571" stop-color="#0018ff" stop-opacity="1.000"/><stop offset="0.3929" stop-color="#0000ff" stop-opacity="1.000"/><stop offset="0.4286" stop-color="#0000ff" stop-opacity="0.827"/><stop offset="0.4643" stop-color="#0000ff" stop-opacity="0.673"/><stop offset="0.5000" stop-color="#0000ff" stop-opacity="0.538"/><stop offset="0.5357" stop-color="#0000ff" stop-opacity="0.424"/><stop offset="0.5714" stop-color="#0000ff" stop-opacity="0.328"/><stop offset="0.6071" stop-color="#0000ff" stop-opacity="0.250"/><stop offset="0.6429" stop-color="#0000ff" stop-opacity="0.187"/><stop offset="0.6786" stop-color="#0000ff" stop-opacity="0.138"/><stop offset="0.7143" stop-color="#0000ff" stop-opacity="0.100"/><stop offset="0.7500" stop-color="#0000ff" stop-opacity="0.071"/><stop offset="0.7857" stop-color="#0000ff" stop-opacity="0.050"/><stop offset="0.8214" stop-color="#0000ff" stop-opacity="0.031"/><stop offset="0.8571" stop-color="#0000ff" stop-opacity="0.017"/><stop offset="0.8929" stop-color="#0000ff" stop-opacity="0.008"/><stop offset="0.9286" stop-color="#0000ff" stop-opacity="0.004"/><stop offset="0.9643" stop-color="#0000ff" stop-opacity="0.001"/><stop offset="1.0000" stop-color="#0000ff" stop-opacity="0.000"/></radialGradient>
<radialGradient id="g15" gradientUnits="userSpaceOnUse" cx="0" cy="0" r="6.480" gradientTransform="translate(77.60 295.25) rotate(-60.00) scale(5.400 2.550)"><stop offset="0.0000" stop-color="#a80000" stop-opacity="1.000"/><stop offset="0.0042" stop-color="#a80000" stop-opacity="1.000"/><stop offset="0.0110" stop-color="#a90000" stop-opacity="1.000"/><stop offset="0.0195" stop-color="#aa0000" stop-opacity="1.000"/><stop offset="0.0291" stop-color="#ae0000" stop-opacity="1.000"/><stop offset="0.0398" stop-color="#b40000" stop-opacity="1.000"/><stop offset="0.0514" stop-color="#be0000" stop-opacity="1.000"/><stop offset="0.0638" stop-color="#cd0000" stop-opacity="1.000"/><stop offset="0.0769" stop-color="#e20000" stop-opacity="1.000"/><stop offset="0.0907" stop-color="#fd0000" stop-opacity="1.000"/><stop offset="0.1051" stop-color="#ff2100" stop-opacity="1.000"/><stop offset="0.1201" stop-color="#ff4a00" stop-opacity="1.000"/><stop offset="0.1356" stop-color="#ff7900" stop-opacity="1.000"/><stop offset="0.1517" stop-color="#ffad00" stop-opacity="1.000"/><stop offset="0.1683" stop-color="#ffe500" stop-opacity="1.000"/><stop offset="0.1853" stop-color="#e0ff1f" stop-opacity="1.000"/><stop offset="0.2029" stop-color="#a7ff58" stop-opacity="1.000"/><stop offset="0.2208" stop-color="#72ff8d" stop-opacity="1.000"/><stop offset="0.2392" stop-color="#41ffbe" stop-opacity="1.000"/><stop offset="0.2580" stop-color="#16ffe9" stop-opacity="1.000"/><stop offset="0.2773" stop-color="#00f2ff" stop-opacity="1.000"/><stop offset="0.2969" stop-color="#00d6ff" stop-opacity="1.000"/><stop offset="0.3168" stop-color="#00c0ff" stop-opacity="1.000"/><stop offset="0.3372" stop-color="#00b0ff" stop-opacity="0.951"/><stop offset="0.3579" stop-color="#00a4ff" stop-opacity="0.759"/><stop offset="0.3789" stop-color="#009bff" stop-opacity="0.621"/><stop offset="0.4003" stop-color="#0095ff" stop-opacity="0.519"/><stop offset="0.4220" stop-color="#0090ff" stop-opacity="0.442"/><stop offset="0.4441" stop-color="#008dff" stop-opacity="0.381"/><stop offset="0.4664" stop-color="#0089ff" stop-opacity="0.329"/><stop offset="0.4891" stop-color="#0087ff" stop-opacity="0.284"/><stop offset="0.5121" stop-color="#0084ff" stop-opacity="0.244"/><stop offset="0.5354" stop-color="#0082ff" stop-opacity="0.208"/><stop offset="0.5589" stop-color="#0080ff" stop-opacity="0.176"/><stop offset="0.5828" stop-color="#007eff" stop-opacity="0.148"/><stop offset="0.6069" stop-color="#007dff" stop-opacity="0.123"/><stop offset="0.6313" stop-color="#007bff" stop-opacity="0.101"/><stop offset="0.6560" stop-color="#007aff" stop-opacity="0.082"/><stop offset="0.6810" stop-color="#0079ff" stop-opacity="0.066"/><stop offset="0.7062" stop-color="#0079ff" stop-opacity="0.053"/><stop offset="0.7317" stop-color="#0078ff" stop-opacity="0.042"/><stop offset="0.7574" stop-color="#0077ff" stop-opacity="0.032"/><stop offset="0.7834" stop-color="#0077ff" stop-opacity="0.025"/><stop offset="0.8097" stop-color="#0076ff" stop-opacity="0.018"/><stop offset="0.8361" stop-color="#0076ff" stop-opacity="0.012"/><stop offset="0.8629" stop-color="#0076ff" stop-opacity="0.007"/><stop offset="0.8898" stop-color="#0076ff" stop-opacity="0.004"/><stop offset="0.9170" stop-color="#0076ff" stop-opacity="0.002"/><stop offset="0.9445" stop-color="#0076ff" stop-opacity="0.001"/><stop offset="0.9721" stop-color="#0075ff" stop-opacity="0.000"/><stop offset="1.0000" stop-color="#0075ff" stop-opacity="0.000"/></radialGradient>
<radialGradient id="g16" gradientUnits="userSpaceOnUse" cx="0" cy="0" r="6.480" gradientTransform="translate(100.90 327.35) rotate(-60.00) scale(5.400 2.550)"><stop offset="0.0000" stop-color="#a80000" stop-opacity="1.000"/><stop offset="0.0042" stop-color="#a80000" stop-opacity="1.000"/><stop offset="0.0110" stop-color="#a90000" stop-opacity="1.000"/><stop offset="0.0195" stop-color="#aa0000" stop-opacity="1.000"/><stop offset="0.0291" stop-color="#ae0000" stop-opacity="1.000"/><stop offset="0.0398" stop-color="#b40000" stop-opacity="1.000"/><stop offset="0.0514" stop-color="#be0000" stop-opacity="1.000"/><stop offset="0.0638" stop-color="#cd0000" stop-opacity="1.000"/><stop offset="0.0769" stop-color="#e20000" stop-opacity="1.000"/><stop offset="0.0907" stop-color="#fd0000" stop-opacity="1.000"/><stop offset="0.1051" stop-color="#ff2100" stop-opacity="1.000"/><stop offset="0.1201" stop-color="#ff4a00" stop-opacity="1.000"/><stop offset="0.1356" stop-color="#ff7900" stop-opacity="1.000"/><stop offset="0.1517" stop-color="#ffad00" stop-opacity="1.000"/><stop offset="0.1683" stop-color="#ffe500" stop-opacity="1.000"/><stop offset="0.1853" stop-color="#e0ff1f" stop-opacity="1.000"/><stop offset="0.2029" stop-color="#a7ff58" stop-opacity="1.000"/><stop offset="0.2208" stop-color="#72ff8d" stop-opacity="1.000"/><stop offset="0.2392" stop-color="#41ffbe" stop-opacity="1.000"/><stop offset="0.2580" stop-color="#16ffe9" stop-opacity="1.000"/><stop offset="0.2773" stop-color="#00f2ff" stop-opacity="1.000"/><stop offset="0.2969" stop-color="#00d6ff" stop-opacity="1.000"/><stop offset="0.3168" stop-color="#00c0ff" stop-opacity="1.000"/><stop offset="0.3372" stop-color="#00b0ff" stop-opacity="0.951"/><stop offset="0.3579" stop-color="#00a4ff" stop-opacity="0.759"/><stop offset="0.3789" stop-color="#009bff" stop-opacity="0.621"/><stop offset="0.4003" stop-color="#0095ff" stop-opacity="0.519"/><stop offset="0.4220" stop-color="#0090ff" stop-opacity="0.442"/><stop offset="0.4441" stop-color="#008dff" stop-opacity="0.381"/><stop offset="0.4664" stop-color="#0089ff" stop-opacity="0.329"/><stop offset="0.4891" stop-color="#0087ff" stop-opacity="0.284"/><stop offset="0.5121" stop-color="#0084ff" stop-opacity="0.244"/><stop offset="0.5354" stop-color="#0082ff" stop-opacity="0.208"/><stop offset="0.5589" stop-color="#0080ff" stop-opacity="0.176"/><stop offset="0.5828" stop-color="#007eff" stop-opacity="0.148"/><stop offset="0.6069" stop-color="#007dff" stop-opacity="0.123"/><stop offset="0.6313" stop-color="#007bff" stop-opacity="0.101"/><stop offset="0.6560" stop-color="#007aff" stop-opacity="0.082"/><stop offset="0.6810" stop-color="#0079ff" stop-opacity="0.066"/><stop offset="0.7062" stop-color="#0079ff" stop-opacity="0.053"/><stop offset="0.7317" stop-color="#0078ff" stop-opacity="0.042"/><stop offset="0.7574" stop-color="#0077ff" stop-opacity="0.032"/><stop offset="0.7834" stop-color="#0077ff" stop-opacity="0.025"/><stop offset="0.8097" stop-color="#0076ff" stop-opacity="0.018"/><stop offset="0.8361" stop-color="#0076ff" stop-opacity="0.012"/><stop offset="0.8629" stop-color="#0076ff" stop-opacity="0.007"/><stop offset="0.8898" stop-color="#0076ff" stop-opacity="0.004"/><stop offset="0.9170" stop-color="#0076ff" stop-opacity="0.002"/><stop offset="0.9445" stop-color="#0076ff" stop-opacity="0.001"/><stop offset="0.9721" stop-color="#0075ff" stop-opacity="0.000"/><stop offset="1.0000" stop-color="#0075ff" stop-opacity="0.000"/></radialGradient>
<linearGradient id="g17" x1="0" y1="0" x2="0" y2="1"><stop offset="0.0000" stop-color="#b30000"/><stop offset="0.1000" stop-color="#ff1a00"/><stop offset="0.1400" stop-color="#e5ff1a"/><stop offset="0.1700" stop-color="#4dffb2"/><stop offset="0.4500" stop-color="#4dffb2"/><stop offset="0.5000" stop-color="#80ff80"/><stop offset="0.5500" stop-color="#2effd1"/><stop offset="1.0000" stop-color="#1affe5"/></linearGradient>
<linearGradient id="g18" x1="0" y1="0" x2="0" y2="1"><stop offset="0.0000" stop-color="#1affe5"/><stop offset="0.4500" stop-color="#1affe5"/><stop offset="0.5200" stop-color="#4dffb2"/><stop offset="0.5800" stop-color="#80ff80"/><stop offset="0.6200" stop-color="#2effd1"/><stop offset="0.8400" stop-color="#2effd1"/><stop offset="0.8700" stop-color="#e5ff1a"/><stop offset="0.9000" stop-color="#ff1a00"/><stop offset="1.0000" stop-color="#b30000"/></linearGradient>
<radialGradient id="g19" gradientUnits="userSpaceOnUse" cx="0" cy="0" r="3.600" gradientTransform="translate(462.40 311.95) rotate(0.00) scale(29.000 90.000)"><stop offset="0.0000" stop-color="#0000ff" stop-opacity="0.800"/><stop offset="0.0357" stop-color="#0000ff" stop-opacity="0.793"/><stop offset="0.0714" stop-color="#0000ff" stop-opacity="0.774"/><stop offset="0.1071" stop-color="#0000ff" stop-opacity="0.743"/><stop offset="0.1429" stop-color="#0000ff" stop-opacity="0.701"/><stop offset="0.1786" stop-color="#0000ff" stop-opacity="0.651"/><stop offset="0.2143" stop-color="#0000ff" stop-opacity="0.594"/><stop offset="0.2500" stop-color="#0000ff" stop-opacity="0.534"/><stop offset="0.2857" stop-color="#0000ff" stop-opacity="0.471"/><stop offset="0.3214" stop-color="#0000ff" stop-opacity="0.410"/><stop offset="0.3571" stop-color="#0000ff" stop-opacity="0.350"/><stop offset="0.3929" stop-color="#0000ff" stop-opacity="0.294"/><stop offset="0.4286" stop-color="#0000ff" stop-opacity="0.243"/><stop offset="0.4643" stop-color="#0000ff" stop-opacity="0.198"/><stop offset="0.5000" stop-color="#0000ff" stop-opacity="0.158"/><stop offset="0.5357" stop-color="#0000ff" stop-opacity="0.125"/><stop offset="0.5714" stop-color="#0000ff" stop-opacity="0.096"/><stop offset="0.6071" stop-color="#0000ff" stop-opacity="0.073"/><stop offset="0.6429" stop-color="#0000ff" stop-opacity="0.055"/><stop offset="0.6786" stop-color="#0000ff" stop-opacity="0.040"/><stop offset="0.7143" stop-color="#0000ff" stop-opacity="0.029"/><stop offset="0.7500" stop-color="#0000ff" stop-opacity="0.021"/><stop offset="0.7857" stop-color="#0000ff" stop-opacity="0.015"/><stop offset="0.8214" stop-color="#0000ff" stop-opacity="0.009"/><stop offset="0.8571" stop-color="#0000ff" stop-opacity="0.005"/><stop offset="0.8929" stop-color="#0000ff" stop-opacity="0.002"/><stop offset="0.9286" stop-color="#0000ff" stop-opacity="0.001"/><stop offset="0.9643" stop-color="#0000ff" stop-opacity="0.000"/><stop offset="1.0000" stop-color="#0000ff" stop-opacity="0.000"/></radialGradient>
<radialGradient id="g20" gradientUnits="userSpaceOnUse" cx="0" cy="0" r="3.600" gradientTransform="translate(449.80 294.95) rotate(90.00) scale(41.000 8.300)"><stop offset="0.0000" stop-color="#00d1ff" stop-opacity="1.000"/><stop offset="0.0357" stop-color="#00ceff" stop-opacity="1.000"/><stop offset="0.0714" stop-color="#00c6ff" stop-opacity="1.000"/><stop offset="0.1071" stop-color="#00b9ff" stop-opacity="1.000"/><stop offset="0.1429" stop-color="#00a7ff" stop-opacity="1.000"/><stop offset="0.1786" stop-color="#0092ff" stop-opacity="1.000"/><stop offset="0.2143" stop-color="#007aff" stop-opacity="1.000"/><stop offset="0.2500" stop-color="#0061ff" stop-opacity="1.000"/><stop offset="0.2857" stop-color="#0047ff" stop-opacity="1.000"/><stop offset="0.3214" stop-color="#002dff" stop-opacity="1.000"/><stop offset="0.3571" stop-color="#0014ff" stop-opacity="1.000"/><stop offset="0.3929" stop-color="#0000ff" stop-opacity="0.971"/><stop offset="0.4286" stop-color="#0000ff" stop-opacity="0.803"/><stop offset="0.4643" stop-color="#0000ff" stop-opacity="0.653"/><stop offset="0.5000" stop-color="#0000ff" stop-opacity="0.522"/><stop offset="0.5357" stop-color="#0000ff" stop-opacity="0.411"/><stop offset="0.5714" stop-color="#0000ff" stop-opacity="0.318"/><stop offset="0.6071" stop-color="#0000ff" stop-opacity="0.242"/><stop offset="0.6429" stop-color="#0000ff" stop-opacity="0.181"/><stop offset="0.6786" stop-color="#0000ff" stop-opacity="0.134"/><stop offset="0.7143" stop-color="#0000ff" stop-opacity="0.097"/><stop offset="0.7500" stop-color="#0000ff" stop-opacity="0.069"/><stop offset="0.7857" stop-color="#0000ff" stop-opacity="0.048"/><stop offset="0.8214" stop-color="#0000ff" stop-opacity="0.030"/><stop offset="0.8571" stop-color="#0000ff" stop-opacity="0.016"/><stop offset="0.8929" stop-color="#0000ff" stop-opacity="0.008"/><stop offset="0.9286" stop-color="#0000ff" stop-opacity="0.004"/><stop offset="0.9643" stop-color="#0000ff" stop-opacity="0.001"/><stop offset="1.0000" stop-color="#0000ff" stop-opacity="0.000"/></radialGradient>
<radialGradient id="g21" gradientUnits="userSpaceOnUse" cx="0" cy="0" r="3.600" gradientTransform="translate(449.80 294.95) rotate(90.00) scale(11.000 8.300)"><stop offset="0.0000" stop-color="#00d1ff" stop-opacity="1.000"/><stop offset="0.0357" stop-color="#00ceff" stop-opacity="1.000"/><stop offset="0.0714" stop-color="#00c6ff" stop-opacity="1.000"/><stop offset="0.1071" stop-color="#00b9ff" stop-opacity="1.000"/><stop offset="0.1429" stop-color="#00a7ff" stop-opacity="1.000"/><stop offset="0.1786" stop-color="#0092ff" stop-opacity="1.000"/><stop offset="0.2143" stop-color="#007aff" stop-opacity="1.000"/><stop offset="0.2500" stop-color="#0061ff" stop-opacity="1.000"/><stop offset="0.2857" stop-color="#0047ff" stop-opacity="1.000"/><stop offset="0.3214" stop-color="#002dff" stop-opacity="1.000"/><stop offset="0.3571" stop-color="#0014ff" stop-opacity="1.000"/><stop offset="0.3929" stop-color="#0000ff" stop-opacity="0.971"/><stop offset="0.4286" stop-color="#0000ff" stop-opacity="0.803"/><stop offset="0.4643" stop-color="#0000ff" stop-opacity="0.653"/><stop offset="0.5000" stop-color="#0000ff" stop-opacity="0.522"/><stop offset="0.5357" stop-color="#0000ff" stop-opacity="0.411"/><stop offset="0.5714" stop-color="#0000ff" stop-opacity="0.318"/><stop offset="0.6071" stop-color="#0000ff" stop-opacity="0.242"/><stop offset="0.6429" stop-color="#0000ff" stop-opacity="0.181"/><stop offset="0.6786" stop-color="#0000ff" stop-opacity="0.134"/><stop offset="0.7143" stop-color="#0000ff" stop-opacity="0.097"/><stop offset="0.7500" stop-color="#0000ff" stop-opacity="0.069"/><stop offset="0.7857" stop-color="#0000ff" stop-opacity="0.048"/><stop offset="0.8214" stop-color="#0000ff" stop-opacity="0.030"/><stop offset="0.8571" stop-color="#0000ff" stop-opacity="0.016"/><stop offset="0.8929" stop-color="#0000ff" stop-opacity="0.008"/><stop offset="0.9286" stop-color="#0000ff" stop-opacity="0.004"/><stop offset="0.9643" stop-color="#0000ff" stop-opacity="0.001"/><stop offset="1.0000" stop-color="#0000ff" stop-opacity="0.000"/></radialGradient>
<radialGradient id="g22" gradientUnits="userSpaceOnUse" cx="0" cy="0" r="3.600" gradientTransform="translate(475.40 327.95) rotate(90.00) scale(41.000 8.300)"><stop offset="0.0000" stop-color="#00d1ff" stop-opacity="1.000"/><stop offset="0.0357" stop-color="#00ceff" stop-opacity="1.000"/><stop offset="0.0714" stop-color="#00c6ff" stop-opacity="1.000"/><stop offset="0.1071" stop-color="#00b9ff" stop-opacity="1.000"/><stop offset="0.1429" stop-color="#00a7ff" stop-opacity="1.000"/><stop offset="0.1786" stop-color="#0092ff" stop-opacity="1.000"/><stop offset="0.2143" stop-color="#007aff" stop-opacity="1.000"/><stop offset="0.2500" stop-color="#0061ff" stop-opacity="1.000"/><stop offset="0.2857" stop-color="#0047ff" stop-opacity="1.000"/><stop offset="0.3214" stop-color="#002dff" stop-opacity="1.000"/><stop offset="0.3571" stop-color="#0014ff" stop-opacity="1.000"/><stop offset="0.3929" stop-color="#0000ff" stop-opacity="0.971"/><stop offset="0.4286" stop-color="#0000ff" stop-opacity="0.803"/><stop offset="0.4643" stop-color="#0000ff" stop-opacity="0.653"/><stop offset="0.5000" stop-color="#0000ff" stop-opacity="0.522"/><stop offset="0.5357" stop-color="#0000ff" stop-opacity="0.411"/><stop offset="0.5714" stop-color="#0000ff" stop-opacity="0.318"/><stop offset="0.6071" stop-color="#0000ff" stop-opacity="0.242"/><stop offset="0.6429" stop-color="#0000ff" stop-opacity="0.181"/><stop offset="0.6786" stop-color="#0000ff" stop-opacity="0.134"/><stop offset="0.7143" stop-color="#0000ff" stop-opacity="0.097"/><stop offset="0.7500" stop-color="#0000ff" stop-opacity="0.069"/><stop offset="0.7857" stop-color="#0000ff" stop-opacity="0.048"/><stop offset="0.8214" stop-color="#0000ff" stop-opacity="0.030"/><stop offset="0.8571" stop-color="#0000ff" stop-opacity="0.016"/><stop offset="0.8929" stop-color="#0000ff" stop-opacity="0.008"/><stop offset="0.9286" stop-color="#0000ff" stop-opacity="0.004"/><stop offset="0.9643" stop-color="#0000ff" stop-opacity="0.001"/><stop offset="1.0000" stop-color="#0000ff" stop-opacity="0.000"/></radialGradient>
<radialGradient id="g23" gradientUnits="userSpaceOnUse" cx="0" cy="0" r="3.600" gradientTransform="translate(475.40 327.95) rotate(90.00) scale(11.000 8.300)"><stop offset="0.0000" stop-color="#00d1ff" stop-opacity="1.000"/><stop offset="0.0357" stop-color="#00ceff" stop-opacity="1.000"/><stop offset="0.0714" stop-color="#00c6ff" stop-opacity="1.000"/><stop offset="0.1071" stop-color="#00b9ff" stop-opacity="1.000"/><stop offset="0.1429" stop-color="#00a7ff" stop-opacity="1.000"/><stop offset="0.1786" stop-color="#0092ff" stop-opacity="1.000"/><stop offset="0.2143" stop-color="#007aff" stop-opacity="1.000"/><stop offset="0.2500" stop-color="#0061ff" stop-opacity="1.000"/><stop offset="0.2857" stop-color="#0047ff" stop-opacity="1.000"/><stop offset="0.3214" stop-color="#002dff" stop-opacity="1.000"/><stop offset="0.3571" stop-color="#0014ff" stop-opacity="1.000"/><stop offset="0.3929" stop-color="#0000ff" stop-opacity="0.971"/><stop offset="0.4286" stop-color="#0000ff" stop-opacity="0.803"/><stop offset="0.4643" stop-color="#0000ff" stop-opacity="0.653"/><stop offset="0.5000" stop-color="#0000ff" stop-opacity="0.522"/><stop offset="0.5357" stop-color="#0000ff" stop-opacity="0.411"/><stop offset="0.5714" stop-color="#0000ff" stop-opacity="0.318"/><stop offset="0.6071" stop-color="#0000ff" stop-opacity="0.242"/><stop offset="0.6429" stop-color="#0000ff" stop-opacity="0.181"/><stop offset="0.6786" stop-color="#0000ff" stop-opacity="0.134"/><stop offset="0.7143" stop-color="#0000ff" stop-opacity="0.097"/><stop offset="0.7500" stop-color="#0000ff" stop-opacity="0.069"/><stop offset="0.7857" stop-color="#0000ff" stop-opacity="0.048"/><stop offset="0.8214" stop-color="#0000ff" stop-opacity="0.030"/><stop offset="0.8571" stop-color="#0000ff" stop-opacity="0.016"/><stop offset="0.8929" stop-color="#0000ff" stop-opacity="0.008"/><stop offset="0.9286" stop-color="#0000ff" stop-opacity="0.004"/><stop offset="0.9643" stop-color="#0000ff" stop-opacity="0.001"/><stop offset="1.0000" stop-color="#0000ff" stop-opacity="0.000"/></radialGradient>
<radialGradient id="g24" gradientUnits="userSpaceOnUse" cx="0" cy="0" r="3.600" gradientTransform="translate(473.80 299.35) rotate(47.00) scale(3.600 2.800)"><stop offset="0.0000" stop-color="#0057ff" stop-opacity="1.000"/><stop offset="0.0357" stop-color="#0055ff" stop-opacity="1.000"/><stop offset="0.0714" stop-color="#0050ff" stop-opacity="1.000"/><stop offset="0.1071" stop-color="#0047ff" stop-opacity="1.000"/><stop offset="0.1429" stop-color="#003cff" stop-opacity="1.000"/><stop offset="0.1786" stop-color="#002fff" stop-opacity="1.000"/><stop offset="0.2143" stop-color="#0020ff" stop-opacity="1.000"/><stop offset="0.2500" stop-color="#000fff" stop-opacity="1.000"/><stop offset="0.2857" stop-color="#0000ff" stop-opacity="0.990"/><stop offset="0.3214" stop-color="#0000ff" stop-opacity="0.860"/><stop offset="0.3571" stop-color="#0000ff" stop-opacity="0.735"/><stop offset="0.3929" stop-color="#0000ff" stop-opacity="0.618"/><stop offset="0.4286" stop-color="#0000ff" stop-opacity="0.511"/><stop offset="0.4643" stop-color="#0000ff" stop-opacity="0.416"/><stop offset="0.5000" stop-color="#0000ff" stop-opacity="0.332"/><stop offset="0.5357" stop-color="#0000ff" stop-opacity="0.262"/><stop offset="0.5714" stop-color="#0000ff" stop-opacity="0.202"/><stop offset="0.6071" stop-color="#0000ff" stop-opacity="0.154"/><stop offset="0.6429" stop-color="#0000ff" stop-opacity="0.115"/><stop offset="0.6786" stop-color="#0000ff" stop-opacity="0.085"/><stop offset="0.7143" stop-color="#0000ff" stop-opacity="0.062"/><stop offset="0.7500" stop-color="#0000ff" stop-opacity="0.044"/><stop offset="0.7857" stop-color="#0000ff" stop-opacity="0.031"/><stop offset="0.8214" stop-color="#0000ff" stop-opacity="0.019"/><stop offset="0.8571" stop-color="#0000ff" stop-opacity="0.010"/><stop offset="0.8929" stop-color="#0000ff" stop-opacity="0.005"/><stop offset="0.9286" stop-color="#0000ff" stop-opacity="0.002"/><stop offset="0.9643" stop-color="#0000ff" stop-opacity="0.001"/><stop offset="1.0000" stop-color="#0000ff" stop-opacity="0.000"/></radialGradient>
<radialGradient id="g25" gradientUnits="userSpaceOnUse" cx="0" cy="0" r="3.600" gradientTransform="translate(450.70 323.85) rotate(47.00) scale(3.600 2.800)"><stop offset="0.0000" stop-color="#0057ff" stop-opacity="1.000"/><stop offset="0.0357" stop-color="#0055ff" stop-opacity="1.000"/><stop offset="0.0714" stop-color="#0050ff" stop-opacity="1.000"/><stop offset="0.1071" stop-color="#0047ff" stop-opacity="1.000"/><stop offset="0.1429" stop-color="#003cff" stop-opacity="1.000"/><stop offset="0.1786" stop-color="#002fff" stop-opacity="1.000"/><stop offset="0.2143" stop-color="#0020ff" stop-opacity="1.000"/><stop offset="0.2500" stop-color="#000fff" stop-opacity="1.000"/><stop offset="0.2857" stop-color="#0000ff" stop-opacity="0.990"/><stop offset="0.3214" stop-color="#0000ff" stop-opacity="0.860"/><stop offset="0.3571" stop-color="#0000ff" stop-opacity="0.735"/><stop offset="0.3929" stop-color="#0000ff" stop-opacity="0.618"/><stop offset="0.4286" stop-color="#0000ff" stop-opacity="0.511"/><stop offset="0.4643" stop-color="#0000ff" stop-opacity="0.416"/><stop offset="0.5000" stop-color="#0000ff" stop-opacity="0.332"/><stop offset="0.5357" stop-color="#0000ff" stop-opacity="0.262"/><stop offset="0.5714" stop-color="#0000ff" stop-opacity="0.202"/><stop offset="0.6071" stop-color="#0000ff" stop-opacity="0.154"/><stop offset="0.6429" stop-color="#0000ff" stop-opacity="0.115"/><stop offset="0.6786" stop-color="#0000ff" stop-opacity="0.085"/><stop offset="0.7143" stop-color="#0000ff" stop-opacity="0.062"/><stop offset="0.7500" stop-color="#0000ff" stop-opacity="0.044"/><stop offset="0.7857" stop-color="#0000ff" stop-opacity="0.031"/><stop offset="0.8214" stop-color="#0000ff" stop-opacity="0.019"/><stop offset="0.8571" stop-color="#0000ff" stop-opacity="0.010"/><stop offset="0.8929" stop-color="#0000ff" stop-opacity="0.005"/><stop offset="0.9286" stop-color="#0000ff" stop-opacity="0.002"/><stop offset="0.9643" stop-color="#0000ff" stop-opacity="0.001"/><stop offset="1.0000" stop-color="#0000ff" stop-opacity="0.000"/></radialGradient>
<radialGradient id="g26" gradientUnits="userSpaceOnUse" cx="0" cy="0" r="6.480" gradientTransform="translate(450.90 294.45) rotate(-60.00) scale(5.400 2.550)"><stop offset="0.0000" stop-color="#a80000" stop-opacity="1.000"/><stop offset="0.0042" stop-color="#a80000" stop-opacity="1.000"/><stop offset="0.0110" stop-color="#a90000" stop-opacity="1.000"/><stop offset="0.0195" stop-color="#aa0000" stop-opacity="1.000"/><stop offset="0.0291" stop-color="#ae0000" stop-opacity="1.000"/><stop offset="0.0398" stop-color="#b40000" stop-opacity="1.000"/><stop offset="0.0514" stop-color="#be0000" stop-opacity="1.000"/><stop offset="0.0638" stop-color="#cd0000" stop-opacity="1.000"/><stop offset="0.0769" stop-color="#e20000" stop-opacity="1.000"/><stop offset="0.0907" stop-color="#fd0000" stop-opacity="1.000"/><stop offset="0.1051" stop-color="#ff2100" stop-opacity="1.000"/><stop offset="0.1201" stop-color="#ff4a00" stop-opacity="1.000"/><stop offset="0.1356" stop-color="#ff7900" stop-opacity="1.000"/><stop offset="0.1517" stop-color="#ffad00" stop-opacity="1.000"/><stop offset="0.1683" stop-color="#ffe500" stop-opacity="1.000"/><stop offset="0.1853" stop-color="#e0ff1f" stop-opacity="1.000"/><stop offset="0.2029" stop-color="#a7ff58" stop-opacity="1.000"/><stop offset="0.2208" stop-color="#72ff8d" stop-opacity="1.000"/><stop offset="0.2392" stop-color="#41ffbe" stop-opacity="1.000"/><stop offset="0.2580" stop-color="#16ffe9" stop-opacity="1.000"/><stop offset="0.2773" stop-color="#00f2ff" stop-opacity="1.000"/><stop offset="0.2969" stop-color="#00d6ff" stop-opacity="1.000"/><stop offset="0.3168" stop-color="#00c0ff" stop-opacity="1.000"/><stop offset="0.3372" stop-color="#00b0ff" stop-opacity="0.951"/><stop offset="0.3579" stop-color="#00a4ff" stop-opacity="0.759"/><stop offset="0.3789" stop-color="#009bff" stop-opacity="0.621"/><stop offset="0.4003" stop-color="#0095ff" stop-opacity="0.519"/><stop offset="0.4220" stop-color="#0090ff" stop-opacity="0.442"/><stop offset="0.4441" stop-color="#008dff" stop-opacity="0.381"/><stop offset="0.4664" stop-color="#0089ff" stop-opacity="0.329"/><stop offset="0.4891" stop-color="#0087ff" stop-opacity="0.284"/><stop offset="0.5121" stop-color="#0084ff" stop-opacity="0.244"/><stop offset="0.5354" stop-color="#0082ff" stop-opacity="0.208"/><stop offset="0.5589" stop-color="#0080ff" stop-opacity="0.176"/><stop offset="0.5828" stop-color="#007eff" stop-opacity="0.148"/><stop offset="0.6069" stop-color="#007dff" stop-opacity="0.123"/><stop offset="0.6313" stop-color="#007bff" stop-opacity="0.101"/><stop offset="0.6560" stop-color="#007aff" stop-opacity="0.082"/><stop offset="0.6810" stop-color="#0079ff" stop-opacity="0.066"/><stop offset="0.7062" stop-color="#0079ff" stop-opacity="0.053"/><stop offset="0.7317" stop-color="#0078ff" stop-opacity="0.042"/><stop offset="0.7574" stop-color="#0077ff" stop-opacity="0.032"/><stop offset="0.7834" stop-color="#0077ff" stop-opacity="0.025"/><stop offset="0.8097" stop-color="#0076ff" stop-opacity="0.018"/><stop offset="0.8361" stop-color="#0076ff" stop-opacity="0.012"/><stop offset="0.8629" stop-color="#0076ff" stop-opacity="0.007"/><stop offset="0.8898" stop-color="#0076ff" stop-opacity="0.004"/><stop offset="0.9170" stop-color="#0076ff" stop-opacity="0.002"/><stop offset="0.9445" stop-color="#0076ff" stop-opacity="0.001"/><stop offset="0.9721" stop-color="#0075ff" stop-opacity="0.000"/><stop offset="1.0000" stop-color="#0075ff" stop-opacity="0.000"/></radialGradient>
<radialGradient id="g27" gradientUnits="userSpaceOnUse" cx="0" cy="0" r="6.480" gradientTransform="translate(474.00 327.95) rotate(-60.00) scale(5.400 2.550)"><stop offset="0.0000" stop-color="#a80000" stop-opacity="1.000"/><stop offset="0.0042" stop-color="#a80000" stop-opacity="1.000"/><stop offset="0.0110" stop-color="#a90000" stop-opacity="1.000"/><stop offset="0.0195" stop-color="#aa0000" stop-opacity="1.000"/><stop offset="0.0291" stop-color="#ae0000" stop-opacity="1.000"/><stop offset="0.0398" stop-color="#b40000" stop-opacity="1.000"/><stop offset="0.0514" stop-color="#be0000" stop-opacity="1.000"/><stop offset="0.0638" stop-color="#cd0000" stop-opacity="1.000"/><stop offset="0.0769" stop-color="#e20000" stop-opacity="1.000"/><stop offset="0.0907" stop-color="#fd0000" stop-opacity="1.000"/><stop offset="0.1051" stop-color="#ff2100" stop-opacity="1.000"/><stop offset="0.1201" stop-color="#ff4a00" stop-opacity="1.000"/><stop offset="0.1356" stop-color="#ff7900" stop-opacity="1.000"/><stop offset="0.1517" stop-color="#ffad00" stop-opacity="1.000"/><stop offset="0.1683" stop-color="#ffe500" stop-opacity="1.000"/><stop offset="0.1853" stop-color="#e0ff1f" stop-opacity="1.000"/><stop offset="0.2029" stop-color="#a7ff58" stop-opacity="1.000"/><stop offset="0.2208" stop-color="#72ff8d" stop-opacity="1.000"/><stop offset="0.2392" stop-color="#41ffbe" stop-opacity="1.000"/><stop offset="0.2580" stop-color="#16ffe9" stop-opacity="1.000"/><stop offset="0.2773" stop-color="#00f2ff" stop-opacity="1.000"/><stop offset="0.2969" stop-color="#00d6ff" stop-opacity="1.000"/><stop offset="0.3168" stop-color="#00c0ff" stop-opacity="1.000"/><stop offset="0.3372" stop-color="#00b0ff" stop-opacity="0.951"/><stop offset="0.3579" stop-color="#00a4ff" stop-opacity="0.759"/><stop offset="0.3789" stop-color="#009bff" stop-opacity="0.621"/><stop offset="0.4003" stop-color="#0095ff" stop-opacity="0.519"/><stop offset="0.4220" stop-color="#0090ff" stop-opacity="0.442"/><stop offset="0.4441" stop-color="#008dff" stop-opacity="0.381"/><stop offset="0.4664" stop-color="#0089ff" stop-opacity="0.329"/><stop offset="0.4891" stop-color="#0087ff" stop-opacity="0.284"/><stop offset="0.5121" stop-color="#0084ff" stop-opacity="0.244"/><stop offset="0.5354" stop-color="#0082ff" stop-opacity="0.208"/><stop offset="0.5589" stop-color="#0080ff" stop-opacity="0.176"/><stop offset="0.5828" stop-color="#007eff" stop-opacity="0.148"/><stop offset="0.6069" stop-color="#007dff" stop-opacity="0.123"/><stop offset="0.6313" stop-color="#007bff" stop-opacity="0.101"/><stop offset="0.6560" stop-color="#007aff" stop-opacity="0.082"/><stop offset="0.6810" stop-color="#0079ff" stop-opacity="0.066"/><stop offset="0.7062" stop-color="#0079ff" stop-opacity="0.053"/><stop offset="0.7317" stop-color="#0078ff" stop-opacity="0.042"/><stop offset="0.7574" stop-color="#0077ff" stop-opacity="0.032"/><stop offset="0.7834" stop-color="#0077ff" stop-opacity="0.025"/><stop offset="0.8097" stop-color="#0076ff" stop-opacity="0.018"/><stop offset="0.8361" stop-color="#0076ff" stop-opacity="0.012"/><stop offset="0.8629" stop-color="#0076ff" stop-opacity="0.007"/><stop offset="0.8898" stop-color="#0076ff" stop-opacity="0.004"/><stop offset="0.9170" stop-color="#0076ff" stop-opacity="0.002"/><stop offset="0.9445" stop-color="#0076ff" stop-opacity="0.001"/><stop offset="0.9721" stop-color="#0075ff" stop-opacity="0.000"/><stop offset="1.0000" stop-color="#0075ff" stop-opacity="0.000"/></radialGradient>
<clipPath id="cpa"><rect x="40.60" y="52.60" width="97.60" height="118.70"/></clipPath>
<clipPath id="cpb"><rect x="226.60" y="51.90" width="92.20" height="119.70"/></clipPath>
<clipPath id="cpc"><rect x="413.80" y="52.60" width="97.20" height="118.70"/></clipPath>
<clipPath id="cpd"><rect x="40.60" y="252.60" width="97.60" height="118.70"/></clipPath>
<clipPath id="cpe"><rect x="226.60" y="251.90" width="92.20" height="119.70"/></clipPath>
<clipPath id="cpf"><rect x="413.80" y="252.60" width="97.20" height="118.70"/></clipPath>
</defs>
<g clip-path="url(#cpa)">
<rect x="40.60" y="52.60" width="97.60" height="118.70" fill="#00009e"/>
<rect x="40.60" y="52.60" width="97.60" height="118.70" fill="url(#g1)"/>
<rect x="40.60" y="52.60" width="97.60" height="118.70" fill="url(#g2)"/>
<ellipse cx="89.40" cy="111.95" rx="38.45" ry="47.31" fill="none" stroke="#000" stroke-opacity="0.36" stroke-width="0.9" stroke-dasharray="3 3"/>
<ellipse cx="89.40" cy="111.95" rx="19.23" ry="23.66" fill="none" stroke="#000" stroke-opacity="0.38" stroke-width="0.9" stroke-dasharray="3 3"/>
<ellipse cx="89.40" cy="111.95" rx="9.61" ry="11.83" fill="none" stroke="#000" stroke-opacity="0.24" stroke-width="0.9" stroke-dasharray="3 3"/>
<ellipse cx="89.40" cy="111.95" rx="4.81" ry="5.91" fill="none" stroke="#000" stroke-opacity="0.18" stroke-width="0.9" stroke-dasharray="2 2"/>
<path d="M40.60 111.95H138.20M89.40 52.60V171.30" stroke="#000" stroke-opacity="0.48" stroke-width="0.7" fill="none"/>
</g>
<path d="M40.65 52.60V171.30" fill="none" stroke="#82829c" stroke-width="1.1"/>
<path d="M40.10 170.45H138.20" fill="none" stroke="#9292ac" stroke-width="1.6"/>
<path d="M40.60 52.60H138.20V171.30" fill="none" stroke="#000" stroke-opacity="0.2" stroke-width="0.5"/>
<text x="58.80" y="184.50" font-size="8.6" text-anchor="middle">-0.05</text>
<path d="M58.80 171.30v-1.5M58.80 52.60v1.5" stroke="#000" stroke-opacity="0.5" stroke-width="0.6"/>
<text x="89.40" y="184.50" font-size="8.6" text-anchor="middle">0</text>
<path d="M89.40 171.30v-1.5M89.40 52.60v1.5" stroke="#000" stroke-opacity="0.5" stroke-width="0.6"/>
<text x="120.00" y="184.50" font-size="8.6" text-anchor="middle">0.05</text>
<path d="M120.00 171.30v-1.5M120.00 52.60v1.5" stroke="#000" stroke-opacity="0.5" stroke-width="0.6"/>
<text x="36.30" y="152.30" font-size="8.6" text-anchor="end">-0.05</text>
<path d="M40.60 149.60h1.5M138.20 149.60h-1.5" stroke="#000" stroke-opacity="0.5" stroke-width="0.6"/>
<text x="36.30" y="114.65" font-size="8.6" text-anchor="end">0</text>
<path d="M40.60 111.95h1.5M138.20 111.95h-1.5" stroke="#000" stroke-opacity="0.5" stroke-width="0.6"/>
<text x="36.30" y="77.00" font-size="8.6" text-anchor="end">0.05</text>
<path d="M40.60 74.30h1.5M138.20 74.30h-1.5" stroke="#000" stroke-opacity="0.5" stroke-width="0.6"/>
<text x="89.40" y="196.70" font-size="9" text-anchor="middle">Azimuth wavenumber</text>
<text x="89.40" y="209.50" font-size="8.5" text-anchor="middle">(a)</text>
<g clip-path="url(#cpb)">
<rect x="226.60" y="51.90" width="92.20" height="119.70" fill="#00009e"/>
<rect x="226.60" y="51.90" width="92.20" height="119.70" fill="url(#g3)"/>
<rect x="226.60" y="51.90" width="92.20" height="119.70" fill="url(#g4)"/>
<rect x="226.60" y="51.90" width="92.20" height="119.70" fill="url(#g5)"/>
<rect x="226.60" y="51.90" width="92.20" height="119.70" fill="url(#g6)"/>
<ellipse cx="272.70" cy="111.75" rx="28.97" ry="37.60" fill="none" stroke="#000" stroke-opacity="0.29" stroke-width="0.9" stroke-dasharray="3 3"/>
<ellipse cx="272.70" cy="111.75" rx="14.48" ry="18.80" fill="none" stroke="#000" stroke-opacity="0.29" stroke-width="0.9" stroke-dasharray="3 3"/>
<ellipse cx="272.70" cy="111.75" rx="7.24" ry="9.40" fill="none" stroke="#000" stroke-opacity="0.29" stroke-width="0.9" stroke-dasharray="2.5 2.5"/>
<ellipse cx="272.70" cy="111.75" rx="3.62" ry="4.70" fill="none" stroke="#000" stroke-opacity="0.30" stroke-width="0.9"/>
<path d="M226.60 111.75H318.80M272.70 51.90V171.60" stroke="#000" stroke-opacity="0.48" stroke-width="0.7" fill="none"/>
</g>
<path d="M226.60 51.90H318.80V171.60" fill="none" stroke="#000" stroke-opacity="0.2" stroke-width="0.5"/>
<text x="226.60" y="184.50" font-size="8.6" text-anchor="middle">-0.2</text>
<path d="M226.60 171.60v-1.5M226.60 51.90v1.5" stroke="#000" stroke-opacity="0.5" stroke-width="0.6"/>
<text x="272.70" y="184.50" font-size="8.6" text-anchor="middle">0</text>
<path d="M272.70 171.60v-1.5M272.70 51.90v1.5" stroke="#000" stroke-opacity="0.5" stroke-width="0.6"/>
<text x="318.80" y="184.50" font-size="8.6" text-anchor="middle">0.2</text>
<path d="M318.80 171.60v-1.5M318.80 51.90v1.5" stroke="#000" stroke-opacity="0.5" stroke-width="0.6"/>
<text x="222.30" y="175.00" font-size="8.6" text-anchor="end">-0.2</text>
<path d="M226.60 171.60h1.5M318.80 171.60h-1.5" stroke="#000" stroke-opacity="0.5" stroke-width="0.6"/>
<text x="222.30" y="145.08" font-size="8.6" text-anchor="end">-0.1</text>
<path d="M226.60 141.68h1.5M318.80 141.68h-1.5" stroke="#000" stroke-opacity="0.5" stroke-width="0.6"/>
<text x="222.30" y="115.15" font-size="8.6" text-anchor="end">0</text>
<path d="M226.60 111.75h1.5M318.80 111.75h-1.5" stroke="#000" stroke-opacity="0.5" stroke-width="0.6"/>
<text x="222.30" y="85.23" font-size="8.6" text-anchor="end">0.1</text>
<path d="M226.60 81.83h1.5M318.80 81.83h-1.5" stroke="#000" stroke-opacity="0.5" stroke-width="0.6"/>
<text x="222.30" y="55.30" font-size="8.6" text-anchor="end">0.2</text>
<path d="M226.60 51.90h1.5M318.80 51.90h-1.5" stroke="#000" stroke-opacity="0.5" stroke-width="0.6"/>
<text x="272.70" y="196.70" font-size="9" text-anchor="middle">Azimuth wavenumber</text>
<text x="272.70" y="209.50" font-size="8.5" text-anchor="middle">(b)</text>
<g clip-path="url(#cpc)">
<rect x="413.80" y="52.60" width="97.20" height="118.70" fill="#00009e"/>
<rect x="413.80" y="52.60" width="97.20" height="118.70" fill="url(#g7)"/>
<rect x="413.80" y="52.60" width="97.20" height="118.70" fill="url(#g8)"/>
<rect x="413.80" y="52.60" width="97.20" height="118.70" fill="url(#g9)"/>
<ellipse cx="462.40" cy="111.95" rx="38.45" ry="47.31" fill="none" stroke="#000" stroke-opacity="0.36" stroke-width="0.9" stroke-dasharray="3 3"/>
<ellipse cx="462.40" cy="111.95" rx="19.23" ry="23.66" fill="none" stroke="#000" stroke-opacity="0.38" stroke-width="0.9" stroke-dasharray="3 3"/>
<ellipse cx="462.40" cy="111.95" rx="9.61" ry="11.83" fill="none" stroke="#000" stroke-opacity="0.24" stroke-width="0.9" stroke-dasharray="3 3"/>
<ellipse cx="462.40" cy="111.95" rx="4.81" ry="5.91" fill="none" stroke="#000" stroke-opacity="0.18" stroke-width="0.9" stroke-dasharray="2 2"/>
<path d="M413.80 111.95H511.00M462.40 52.60V171.30" stroke="#000" stroke-opacity="0.48" stroke-width="0.7" fill="none"/>
</g>
<path d="M413.85 52.60V171.30" fill="none" stroke="#82829c" stroke-width="1.1"/>
<path d="M413.30 170.45H511.00" fill="none" stroke="#9292ac" stroke-width="1.6"/>
<path d="M413.80 52.60H511.00V171.30" fill="none" stroke="#000" stroke-opacity="0.2" stroke-width="0.5"/>
<text x="431.80" y="184.50" font-size="8.6" text-anchor="middle">-0.05</text>
<path d="M431.80 171.30v-1.5M431.80 52.60v1.5" stroke="#000" stroke-opacity="0.5" stroke-width="0.6"/>
<text x="462.40" y="184.50" font-size="8.6" text-anchor="middle">0</text>
<path d="M462.40 171.30v-1.5M462.40 52.60v1.5" stroke="#000" stroke-opacity="0.5" stroke-width="0.6"/>
<text x="493.00" y="184.50" font-size="8.6" text-anchor="middle">0.05</text>
<path d="M493.00 171.30v-1.5M493.00 52.60v1.5" stroke="#000" stroke-opacity="0.5" stroke-width="0.6"/>
<text x="409.50" y="152.30" font-size="8.6" text-anchor="end">-0.05</text>
<path d="M413.80 149.60h1.5M511.00 149.60h-1.5" stroke="#000" stroke-opacity="0.5" stroke-width="0.6"/>
<text x="409.50" y="114.65" font-size="8.6" text-anchor="end">0</text>
<path d="M413.80 111.95h1.5M511.00 111.95h-1.5" stroke="#000" stroke-opacity="0.5" stroke-width="0.6"/>
<text x="409.50" y="77.00" font-size="8.6" text-anchor="end">0.05</text>
<path d="M413.80 74.30h1.5M511.00 74.30h-1.5" stroke="#000" stroke-opacity="0.5" stroke-width="0.6"/>
<text x="462.40" y="196.70" font-size="9" text-anchor="middle">Azimuth wavenumber</text>
<text x="462.40" y="209.50" font-size="8.5" text-anchor="middle">(c)</text>
<g clip-path="url(#cpd)">
<rect x="40.60" y="252.60" width="97.60" height="118.70" fill="#00009e"/>
<rect x="40.60" y="252.60" width="97.60" height="118.70" fill="url(#g10)"/>
<rect x="40.60" y="252.60" width="97.60" height="42.65" fill="url(#g11)"/>
<rect x="40.60" y="295.25" width="97.60" height="76.05" fill="url(#g12)"/>
<rect x="40.60" y="252.60" width="97.60" height="75.25" fill="url(#g14)"/>
<rect x="40.60" y="327.85" width="97.60" height="43.45" fill="url(#g13)"/>
<rect x="40.60" y="252.60" width="97.60" height="118.70" fill="url(#g15)"/>
<rect x="40.60" y="252.60" width="97.60" height="118.70" fill="url(#g16)"/>
<ellipse cx="89.40" cy="311.95" rx="38.45" ry="47.31" fill="none" stroke="#000" stroke-opacity="0.31" stroke-width="0.9" stroke-dasharray="3 3"/>
<ellipse cx="89.40" cy="311.95" rx="19.23" ry="23.66" fill="none" stroke="#000" stroke-opacity="0.32" stroke-width="0.9" stroke-dasharray="3 3"/>
<ellipse cx="89.40" cy="311.95" rx="9.61" ry="11.83" fill="none" stroke="#000" stroke-opacity="0.20" stroke-width="0.9" stroke-dasharray="3 3"/>
<ellipse cx="89.40" cy="311.95" rx="4.81" ry="5.91" fill="none" stroke="#000" stroke-opacity="0.15" stroke-width="0.9" stroke-dasharray="2 2"/>
<path d="M40.60 311.95H138.20M89.40 252.60V371.30" stroke="#000" stroke-opacity="0.48" stroke-width="0.7" fill="none"/>
</g>
<path d="M40.65 252.60V371.30" fill="none" stroke="#82829c" stroke-width="1.1"/>
<path d="M40.10 370.45H138.20" fill="none" stroke="#9292ac" stroke-width="1.6"/>
<path d="M40.60 252.60H138.20V371.30" fill="none" stroke="#000" stroke-opacity="0.2" stroke-width="0.5"/>
<text x="58.80" y="384.50" font-size="8.6" text-anchor="middle">-0.05</text>
<path d="M58.80 371.30v-1.5M58.80 252.60v1.5" stroke="#000" stroke-opacity="0.5" stroke-width="0.6"/>
<text x="89.40" y="384.50" font-size="8.6" text-anchor="middle">0</text>
<path d="M89.40 371.30v-1.5M89.40 252.60v1.5" stroke="#000" stroke-opacity="0.5" stroke-width="0.6"/>
<text x="120.00" y="384.50" font-size="8.6" text-anchor="middle">0.05</text>
<path d="M120.00 371.30v-1.5M120.00 252.60v1.5" stroke="#000" stroke-opacity="0.5" stroke-width="0.6"/>
<text x="36.30" y="352.30" font-size="8.6" text-anchor="end">-0.05</text>
<path d="M40.60 349.60h1.5M138.20 349.60h-1.5" stroke="#000" stroke-opacity="0.5" stroke-width="0.6"/>
<text x="36.30" y="314.65" font-size="8.6" text-anchor="end">0</text>
<path d="M40.60 311.95h1.5M138.20 311.95h-1.5" stroke="#000" stroke-opacity="0.5" stroke-width="0.6"/>
<text x="36.30" y="277.00" font-size="8.6" text-anchor="end">0.05</text>
<path d="M40.60 274.30h1.5M138.20 274.30h-1.5" stroke="#000" stroke-opacity="0.5" stroke-width="0.6"/>
<text x="89.40" y="396.70" font-size="9" text-anchor="middle">Azimuth wavenumber</text>
<text x="89.40" y="409.50" font-size="8.5" text-anchor="middle">(d)</text>
<g clip-path="url(#cpe)">
<rect x="226.60" y="251.90" width="92.20" height="119.70" fill="#00009e"/>
<rect x="269.80" y="251.90" width="2.50" height="119.70" fill="url(#g17)"/>
<rect x="273.75" y="251.90" width="2.65" height="119.70" fill="url(#g18)"/>
<ellipse cx="272.70" cy="311.75" rx="28.97" ry="37.60" fill="none" stroke="#000" stroke-opacity="0.29" stroke-width="0.9" stroke-dasharray="3 3"/>
<ellipse cx="272.70" cy="311.75" rx="14.48" ry="18.80" fill="none" stroke="#000" stroke-opacity="0.29" stroke-width="0.9" stroke-dasharray="3 3"/>
<ellipse cx="272.70" cy="311.75" rx="7.24" ry="9.40" fill="none" stroke="#000" stroke-opacity="0.29" stroke-width="0.9" stroke-dasharray="2.5 2.5"/>
<ellipse cx="272.70" cy="311.75" rx="3.62" ry="4.70" fill="none" stroke="#000" stroke-opacity="0.30" stroke-width="0.9"/>
<path d="M226.60 311.75H318.80M272.70 251.90V371.60" stroke="#000" stroke-opacity="0.48" stroke-width="0.7" fill="none"/>
</g>
<path d="M226.60 251.90H318.80V371.60" fill="none" stroke="#000" stroke-opacity="0.2" stroke-width="0.5"/>
<text x="226.60" y="384.50" font-size="8.6" text-anchor="middle">-0.2</text>
<path d="M226.60 371.60v-1.5M226.60 251.90v1.5" stroke="#000" stroke-opacity="0.5" stroke-width="0.6"/>
<text x="272.70" y="384.50" font-size="8.6" text-anchor="middle">0</text>
<path d="M272.70 371.60v-1.5M272.70 251.90v1.5" stroke="#000" stroke-opacity="0.5" stroke-width="0.6"/>
<text x="318.80" y="384.50" font-size="8.6" text-anchor="middle">0.2</text>
<path d="M318.80 371.60v-1.5M318.80 251.90v1.5" stroke="#000" stroke-opacity="0.5" stroke-width="0.6"/>
<text x="222.30" y="375.00" font-size="8.6" text-anchor="end">-0.2</text>
<path d="M226.60 371.60h1.5M318.80 371.60h-1.5" stroke="#000" stroke-opacity="0.5" stroke-width="0.6"/>
<text x="222.30" y="345.07" font-size="8.6" text-anchor="end">-0.1</text>
<path d="M226.60 341.68h1.5M318.80 341.68h-1.5" stroke="#000" stroke-opacity="0.5" stroke-width="0.6"/>
<text x="222.30" y="315.15" font-size="8.6" text-anchor="end">0</text>
<path d="M226.60 311.75h1.5M318.80 311.75h-1.5" stroke="#000" stroke-opacity="0.5" stroke-width="0.6"/>
<text x="222.30" y="285.22" font-size="8.6" text-anchor="end">0.1</text>
<path d="M226.60 281.82h1.5M318.80 281.82h-1.5" stroke="#000" stroke-opacity="0.5" stroke-width="0.6"/>
<text x="222.30" y="255.30" font-size="8.6" text-anchor="end">0.2</text>
<path d="M226.60 251.90h1.5M318.80 251.90h-1.5" stroke="#000" stroke-opacity="0.5" stroke-width="0.6"/>
<text x="272.70" y="396.70" font-size="9" text-anchor="middle">Azimuth wavenumber</text>
<text x="272.70" y="409.50" font-size="8.5" text-anchor="middle">(e)</text>
<g clip-path="url(#cpf)">
<rect x="413.80" y="252.60" width="97.20" height="118.70" fill="#00009e"/>
<rect x="413.80" y="252.60" width="97.20" height="118.70" fill="url(#g19)"/>
<rect x="413.80" y="252.60" width="97.20" height="42.35" fill="url(#g20)"/>
<rect x="413.80" y="294.95" width="97.20" height="76.35" fill="url(#g21)"/>
<rect x="413.80" y="252.60" width="97.20" height="75.35" fill="url(#g23)"/>
<rect x="413.80" y="327.95" width="97.20" height="43.35" fill="url(#g22)"/>
<rect x="413.80" y="252.60" width="97.20" height="118.70" fill="url(#g24)"/>
<rect x="413.80" y="252.60" width="97.20" height="118.70" fill="url(#g25)"/>
<rect x="413.80" y="252.60" width="97.20" height="118.70" fill="url(#g26)"/>
<rect x="413.80" y="252.60" width="97.20" height="118.70" fill="url(#g27)"/>
<ellipse cx="462.40" cy="311.95" rx="38.45" ry="47.31" fill="none" stroke="#000" stroke-opacity="0.31" stroke-width="0.9" stroke-dasharray="3 3"/>
<ellipse cx="462.40" cy="311.95" rx="19.23" ry="23.66" fill="none" stroke="#000" stroke-opacity="0.32" stroke-width="0.9" stroke-dasharray="3 3"/>
<ellipse cx="462.40" cy="311.95" rx="9.61" ry="11.83" fill="none" stroke="#000" stroke-opacity="0.20" stroke-width="0.9" stroke-dasharray="3 3"/>
<ellipse cx="462.40" cy="311.95" rx="4.81" ry="5.91" fill="none" stroke="#000" stroke-opacity="0.15" stroke-width="0.9" stroke-dasharray="2 2"/>
<path d="M413.80 311.95H511.00M462.40 252.60V371.30" stroke="#000" stroke-opacity="0.48" stroke-width="0.7" fill="none"/>
</g>
<path d="M413.85 252.60V371.30" fill="none" stroke="#82829c" stroke-width="1.1"/>
<path d="M413.30 370.45H511.00" fill="none" stroke="#9292ac" stroke-width="1.6"/>
<path d="M413.80 252.60H511.00V371.30" fill="none" stroke="#000" stroke-opacity="0.2" stroke-width="0.5"/>
<text x="431.80" y="384.50" font-size="8.6" text-anchor="middle">-0.05</text>
<path d="M431.80 371.30v-1.5M431.80 252.60v1.5" stroke="#000" stroke-opacity="0.5" stroke-width="0.6"/>
<text x="462.40" y="384.50" font-size="8.6" text-anchor="middle">0</text>
<path d="M462.40 371.30v-1.5M462.40 252.60v1.5" stroke="#000" stroke-opacity="0.5" stroke-width="0.6"/>
<text x="493.00" y="384.50" font-size="8.6" text-anchor="middle">0.05</text>
<path d="M493.00 371.30v-1.5M493.00 252.60v1.5" stroke="#000" stroke-opacity="0.5" stroke-width="0.6"/>
<text x="409.50" y="352.30" font-size="8.6" text-anchor="end">-0.05</text>
<path d="M413.80 349.60h1.5M511.00 349.60h-1.5" stroke="#000" stroke-opacity="0.5" stroke-width="0.6"/>
<text x="409.50" y="314.65" font-size="8.6" text-anchor="end">0</text>
<path d="M413.80 311.95h1.5M511.00 311.95h-1.5" stroke="#000" stroke-opacity="0.5" stroke-width="0.6"/>
<text x="409.50" y="277.00" font-size="8.6" text-anchor="end">0.05</text>
<path d="M413.80 274.30h1.5M511.00 274.30h-1.5" stroke="#000" stroke-opacity="0.5" stroke-width="0.6"/>
<text x="462.40" y="396.70" font-size="9" text-anchor="middle">Azimuth wavenumber</text>
<text x="462.40" y="409.50" font-size="8.5" text-anchor="middle">(f)</text>
<text x="13.10" y="111.95" font-size="9" text-anchor="middle" transform="rotate(-90 13.10 111.95)">Range wavenumber</text>
<text x="203.50" y="111.95" font-size="9" text-anchor="middle" transform="rotate(-90 203.50 111.95)">Range wavenumber</text>
<text x="386.00" y="111.95" font-size="9" text-anchor="middle" transform="rotate(-90 386.00 111.95)">Range wavenumber</text>
<text x="13.10" y="311.95" font-size="9" text-anchor="middle" transform="rotate(-90 13.10 311.95)">Range wavenumber</text>
<text x="203.50" y="311.95" font-size="9" text-anchor="middle" transform="rotate(-90 203.50 311.95)">Range wavenumber</text>
<text x="386.00" y="311.95" font-size="9" text-anchor="middle" transform="rotate(-90 386.00 311.95)">Range wavenumber</text>
<rect x="146.20" y="52.00" width="14.60" height="119.30" fill="url(#jb)" stroke="#000" stroke-opacity="0.5" stroke-width="0.7"/>
<text x="163.90" y="150.70" font-size="7.9" text-anchor="start">50</text>
<text x="163.90" y="126.91" font-size="7.9" text-anchor="start">100</text>
<text x="163.90" y="103.13" font-size="7.9" text-anchor="start">150</text>
<text x="163.90" y="79.35" font-size="7.9" text-anchor="start">200</text>
<text x="163.90" y="55.56" font-size="7.9" text-anchor="start">250</text>
<rect x="330.00" y="52.00" width="12.90" height="119.30" fill="url(#jb)" stroke="#000" stroke-opacity="0.5" stroke-width="0.7"/>
<text x="346.00" y="150.70" font-size="7.9" text-anchor="start">50</text>
<text x="346.00" y="126.91" font-size="7.9" text-anchor="start">100</text>
<text x="346.00" y="103.13" font-size="7.9" text-anchor="start">150</text>
<text x="346.00" y="79.35" font-size="7.9" text-anchor="start">200</text>
<text x="346.00" y="55.56" font-size="7.9" text-anchor="start">250</text>
<rect x="516.30" y="52.00" width="13.60" height="119.30" fill="url(#jb)" stroke="#000" stroke-opacity="0.5" stroke-width="0.7"/>
<text x="533.00" y="150.70" font-size="7.9" text-anchor="start">50</text>
<text x="533.00" y="126.91" font-size="7.9" text-anchor="start">100</text>
<text x="533.00" y="103.13" font-size="7.9" text-anchor="start">150</text>
<text x="533.00" y="79.35" font-size="7.9" text-anchor="start">200</text>
<text x="533.00" y="55.56" font-size="7.9" text-anchor="start">250</text>
<rect x="146.20" y="252.00" width="14.60" height="119.30" fill="url(#jb)" stroke="#000" stroke-opacity="0.5" stroke-width="0.7"/>
<text x="163.90" y="354.18" font-size="7.9" text-anchor="start">10</text>
<text x="163.90" y="333.43" font-size="7.9" text-anchor="start">20</text>
<text x="163.90" y="312.68" font-size="7.9" text-anchor="start">30</text>
<text x="163.90" y="291.93" font-size="7.9" text-anchor="start">40</text>
<text x="163.90" y="271.18" font-size="7.9" text-anchor="start">50</text>
<rect x="330.00" y="252.00" width="12.90" height="119.30" fill="url(#jb)" stroke="#000" stroke-opacity="0.5" stroke-width="0.7"/>
<text x="346.00" y="375.10" font-size="7.9" text-anchor="start">0</text>
<text x="346.00" y="355.46" font-size="7.9" text-anchor="start">2</text>
<text x="346.00" y="335.82" font-size="7.9" text-anchor="start">4</text>
<text x="346.00" y="316.19" font-size="7.9" text-anchor="start">6</text>
<text x="346.00" y="296.55" font-size="7.9" text-anchor="start">8</text>
<text x="346.00" y="276.91" font-size="7.9" text-anchor="start">10</text>
<text x="346.00" y="257.27" font-size="7.9" text-anchor="start">12</text>
<rect x="516.30" y="252.00" width="13.60" height="119.30" fill="url(#jb)" stroke="#000" stroke-opacity="0.5" stroke-width="0.7"/>
<text x="533.00" y="350.40" font-size="7.9" text-anchor="start">10</text>
<text x="533.00" y="325.97" font-size="7.9" text-anchor="start">20</text>
<text x="533.00" y="301.54" font-size="7.9" text-anchor="start">30</text>
<text x="533.00" y="277.10" font-size="7.9" text-anchor="start">40</text>
<text x="89.50" y="10.10" font-size="9" text-anchor="middle">Original single wave system</text>
<text x="89.50" y="22.70" font-size="9" text-anchor="middle">significant wave height = 2 m</text>
<text x="89.50" y="35.30" font-size="9" text-anchor="middle">peak wave direction = 135<tspan font-size="6" dy="-2.6">°</tspan></text>
<text x="89.50" y="47.90" font-size="9" text-anchor="middle">peak wave period = 12 s</text>
<text x="272.50" y="10.10" font-size="9" text-anchor="middle">wave system shorter than original one</text>
<text x="272.50" y="22.70" font-size="9" text-anchor="middle">significant wave height = 5 m</text>
<text x="272.50" y="35.30" font-size="9" text-anchor="middle">peak wave direction = 45<tspan font-size="6" dy="-2.6">°</tspan></text>
<text x="272.50" y="47.90" font-size="9" text-anchor="middle">peak wave period = 5 s</text>
<text x="462.50" y="10.10" font-size="9" text-anchor="middle">wave system longer than original one</text>
<text x="462.50" y="22.70" font-size="9" text-anchor="middle">significant wave height = 1 m</text>
<text x="462.50" y="35.30" font-size="9" text-anchor="middle">peak wave direction = 45<tspan font-size="6" dy="-2.6">°</tspan></text>
<text x="462.50" y="47.90" font-size="9" text-anchor="middle">peak wave period = 14 s</text>
</svg>
</body></html>
